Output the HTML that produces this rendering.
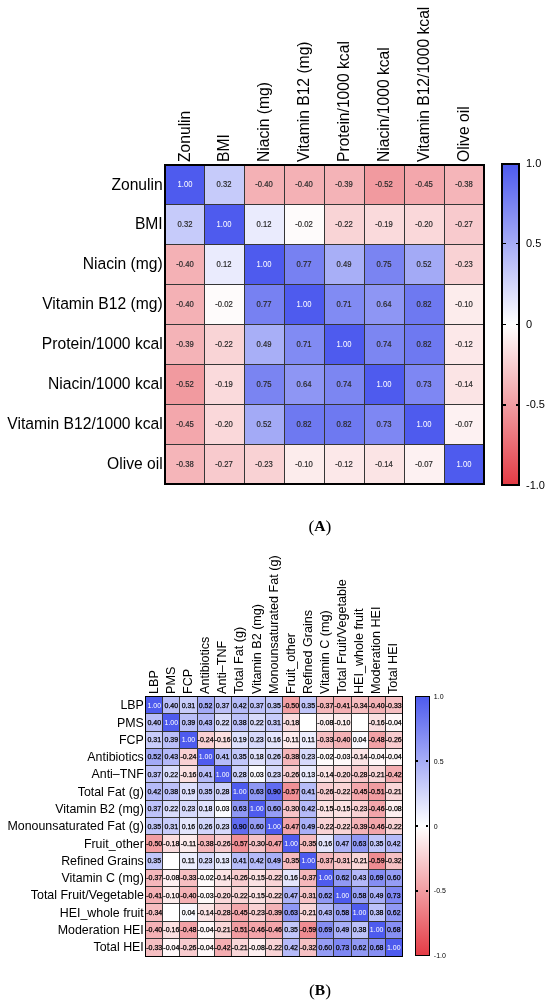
<!DOCTYPE html><html><head><meta charset="utf-8"><style>
html,body{margin:0;padding:0;background:#fff;}body{width:550px;height:1004px;position:relative;overflow:hidden;filter:blur(0.3px);font-family:"Liberation Sans",sans-serif;color:#000}
.c,.l,.v,.rl,.cl,.tl,.cap{position:absolute}.v{text-align:center;white-space:nowrap}.rl{white-space:nowrap;text-align:right}
.cl{white-space:nowrap;transform-origin:0 0;transform:rotate(-90deg);width:max-content}.tl{white-space:nowrap}
.cap{font-family:"Liberation Serif",serif;white-space:nowrap}
</style></head><body>
<div style="position:absolute;left:164.5px;top:164.5px;width:319.52px;height:319.52px;">
<div class="c" style="left:0.00px;top:0.00px;width:40.44px;height:40.44px;background:#4e5bee"></div>
<div class="c" style="left:39.94px;top:0.00px;width:40.44px;height:40.44px;background:#c6cbfa"></div>
<div class="c" style="left:79.88px;top:0.00px;width:40.44px;height:40.44px;background:#f4b1b5"></div>
<div class="c" style="left:119.82px;top:0.00px;width:40.44px;height:40.44px;background:#f4b1b5"></div>
<div class="c" style="left:159.76px;top:0.00px;width:40.44px;height:40.44px;background:#f4b3b7"></div>
<div class="c" style="left:199.70px;top:0.00px;width:40.44px;height:40.44px;background:#f19a9f"></div>
<div class="c" style="left:239.64px;top:0.00px;width:40.44px;height:40.44px;background:#f3a7ac"></div>
<div class="c" style="left:279.58px;top:0.00px;width:40.44px;height:40.44px;background:#f5b5b9"></div>
<div class="c" style="left:0.00px;top:39.94px;width:40.44px;height:40.44px;background:#c6cbfa"></div>
<div class="c" style="left:39.94px;top:39.94px;width:40.44px;height:40.44px;background:#4e5bee"></div>
<div class="c" style="left:79.88px;top:39.94px;width:40.44px;height:40.44px;background:#eaebfd"></div>
<div class="c" style="left:119.82px;top:39.94px;width:40.44px;height:40.44px;background:#fefbfb"></div>
<div class="c" style="left:159.76px;top:39.94px;width:40.44px;height:40.44px;background:#f9d4d6"></div>
<div class="c" style="left:199.70px;top:39.94px;width:40.44px;height:40.44px;background:#fadadc"></div>
<div class="c" style="left:239.64px;top:39.94px;width:40.44px;height:40.44px;background:#fad8da"></div>
<div class="c" style="left:279.58px;top:39.94px;width:40.44px;height:40.44px;background:#f8cacd"></div>
<div class="c" style="left:0.00px;top:79.88px;width:40.44px;height:40.44px;background:#f4b1b5"></div>
<div class="c" style="left:39.94px;top:79.88px;width:40.44px;height:40.44px;background:#eaebfd"></div>
<div class="c" style="left:79.88px;top:79.88px;width:40.44px;height:40.44px;background:#4e5bee"></div>
<div class="c" style="left:119.82px;top:79.88px;width:40.44px;height:40.44px;background:#7781f2"></div>
<div class="c" style="left:159.76px;top:79.88px;width:40.44px;height:40.44px;background:#a8aff7"></div>
<div class="c" style="left:199.70px;top:79.88px;width:40.44px;height:40.44px;background:#7a84f2"></div>
<div class="c" style="left:239.64px;top:79.88px;width:40.44px;height:40.44px;background:#a3aaf6"></div>
<div class="c" style="left:279.58px;top:79.88px;width:40.44px;height:40.44px;background:#f9d2d4"></div>
<div class="c" style="left:0.00px;top:119.82px;width:40.44px;height:40.44px;background:#f4b1b5"></div>
<div class="c" style="left:39.94px;top:119.82px;width:40.44px;height:40.44px;background:#fefbfb"></div>
<div class="c" style="left:79.88px;top:119.82px;width:40.44px;height:40.44px;background:#7781f2"></div>
<div class="c" style="left:119.82px;top:119.82px;width:40.44px;height:40.44px;background:#4e5bee"></div>
<div class="c" style="left:159.76px;top:119.82px;width:40.44px;height:40.44px;background:#818bf3"></div>
<div class="c" style="left:199.70px;top:119.82px;width:40.44px;height:40.44px;background:#8e96f4"></div>
<div class="c" style="left:239.64px;top:119.82px;width:40.44px;height:40.44px;background:#6e79f1"></div>
<div class="c" style="left:279.58px;top:119.82px;width:40.44px;height:40.44px;background:#fcecec"></div>
<div class="c" style="left:0.00px;top:159.76px;width:40.44px;height:40.44px;background:#f4b3b7"></div>
<div class="c" style="left:39.94px;top:159.76px;width:40.44px;height:40.44px;background:#f9d4d6"></div>
<div class="c" style="left:79.88px;top:159.76px;width:40.44px;height:40.44px;background:#a8aff7"></div>
<div class="c" style="left:119.82px;top:159.76px;width:40.44px;height:40.44px;background:#818bf3"></div>
<div class="c" style="left:159.76px;top:159.76px;width:40.44px;height:40.44px;background:#4e5bee"></div>
<div class="c" style="left:199.70px;top:159.76px;width:40.44px;height:40.44px;background:#7c86f2"></div>
<div class="c" style="left:239.64px;top:159.76px;width:40.44px;height:40.44px;background:#6e79f1"></div>
<div class="c" style="left:279.58px;top:159.76px;width:40.44px;height:40.44px;background:#fce8e9"></div>
<div class="c" style="left:0.00px;top:199.70px;width:40.44px;height:40.44px;background:#f19a9f"></div>
<div class="c" style="left:39.94px;top:199.70px;width:40.44px;height:40.44px;background:#fadadc"></div>
<div class="c" style="left:79.88px;top:199.70px;width:40.44px;height:40.44px;background:#7a84f2"></div>
<div class="c" style="left:119.82px;top:199.70px;width:40.44px;height:40.44px;background:#8e96f4"></div>
<div class="c" style="left:159.76px;top:199.70px;width:40.44px;height:40.44px;background:#7c86f2"></div>
<div class="c" style="left:199.70px;top:199.70px;width:40.44px;height:40.44px;background:#4e5bee"></div>
<div class="c" style="left:239.64px;top:199.70px;width:40.44px;height:40.44px;background:#7e87f3"></div>
<div class="c" style="left:279.58px;top:199.70px;width:40.44px;height:40.44px;background:#fbe4e5"></div>
<div class="c" style="left:0.00px;top:239.64px;width:40.44px;height:40.44px;background:#f3a7ac"></div>
<div class="c" style="left:39.94px;top:239.64px;width:40.44px;height:40.44px;background:#fad8da"></div>
<div class="c" style="left:79.88px;top:239.64px;width:40.44px;height:40.44px;background:#a3aaf6"></div>
<div class="c" style="left:119.82px;top:239.64px;width:40.44px;height:40.44px;background:#6e79f1"></div>
<div class="c" style="left:159.76px;top:239.64px;width:40.44px;height:40.44px;background:#6e79f1"></div>
<div class="c" style="left:199.70px;top:239.64px;width:40.44px;height:40.44px;background:#7e87f3"></div>
<div class="c" style="left:239.64px;top:239.64px;width:40.44px;height:40.44px;background:#4e5bee"></div>
<div class="c" style="left:279.58px;top:239.64px;width:40.44px;height:40.44px;background:#fdf1f2"></div>
<div class="c" style="left:0.00px;top:279.58px;width:40.44px;height:40.44px;background:#f5b5b9"></div>
<div class="c" style="left:39.94px;top:279.58px;width:40.44px;height:40.44px;background:#f8cacd"></div>
<div class="c" style="left:79.88px;top:279.58px;width:40.44px;height:40.44px;background:#f9d2d4"></div>
<div class="c" style="left:119.82px;top:279.58px;width:40.44px;height:40.44px;background:#fcecec"></div>
<div class="c" style="left:159.76px;top:279.58px;width:40.44px;height:40.44px;background:#fce8e9"></div>
<div class="c" style="left:199.70px;top:279.58px;width:40.44px;height:40.44px;background:#fbe4e5"></div>
<div class="c" style="left:239.64px;top:279.58px;width:40.44px;height:40.44px;background:#fdf1f2"></div>
<div class="c" style="left:279.58px;top:279.58px;width:40.44px;height:40.44px;background:#4e5bee"></div>
<div class="l" style="left:39.44px;top:0;width:1.0px;height:319.52px;background:#363636"></div>
<div class="l" style="top:39.44px;left:0;height:1.0px;width:319.52px;background:#363636"></div>
<div class="l" style="left:79.38px;top:0;width:1.0px;height:319.52px;background:#363636"></div>
<div class="l" style="top:79.38px;left:0;height:1.0px;width:319.52px;background:#363636"></div>
<div class="l" style="left:119.32px;top:0;width:1.0px;height:319.52px;background:#363636"></div>
<div class="l" style="top:119.32px;left:0;height:1.0px;width:319.52px;background:#363636"></div>
<div class="l" style="left:159.26px;top:0;width:1.0px;height:319.52px;background:#363636"></div>
<div class="l" style="top:159.26px;left:0;height:1.0px;width:319.52px;background:#363636"></div>
<div class="l" style="left:199.20px;top:0;width:1.0px;height:319.52px;background:#363636"></div>
<div class="l" style="top:199.20px;left:0;height:1.0px;width:319.52px;background:#363636"></div>
<div class="l" style="left:239.14px;top:0;width:1.0px;height:319.52px;background:#363636"></div>
<div class="l" style="top:239.14px;left:0;height:1.0px;width:319.52px;background:#363636"></div>
<div class="l" style="left:279.08px;top:0;width:1.0px;height:319.52px;background:#363636"></div>
<div class="l" style="top:279.08px;left:0;height:1.0px;width:319.52px;background:#363636"></div>
<div class="v" style="left:0.00px;top:0.60px;width:39.94px;height:39.94px;line-height:39.94px;font-size:8.5px;color:#ffffff;transform:scaleX(0.9);-webkit-text-stroke:0px #ffffff">1.00</div>
<div class="v" style="left:39.94px;top:0.60px;width:39.94px;height:39.94px;line-height:39.94px;font-size:8.5px;color:#2a2a2a;transform:scaleX(0.9);-webkit-text-stroke:0.2px #2a2a2a">0.32</div>
<div class="v" style="left:79.88px;top:0.60px;width:39.94px;height:39.94px;line-height:39.94px;font-size:8.5px;color:#2a2a2a;transform:scaleX(0.9);-webkit-text-stroke:0.2px #2a2a2a">-0.40</div>
<div class="v" style="left:119.82px;top:0.60px;width:39.94px;height:39.94px;line-height:39.94px;font-size:8.5px;color:#2a2a2a;transform:scaleX(0.9);-webkit-text-stroke:0.2px #2a2a2a">-0.40</div>
<div class="v" style="left:159.76px;top:0.60px;width:39.94px;height:39.94px;line-height:39.94px;font-size:8.5px;color:#2a2a2a;transform:scaleX(0.9);-webkit-text-stroke:0.2px #2a2a2a">-0.39</div>
<div class="v" style="left:199.70px;top:0.60px;width:39.94px;height:39.94px;line-height:39.94px;font-size:8.5px;color:#2a2a2a;transform:scaleX(0.9);-webkit-text-stroke:0.2px #2a2a2a">-0.52</div>
<div class="v" style="left:239.64px;top:0.60px;width:39.94px;height:39.94px;line-height:39.94px;font-size:8.5px;color:#2a2a2a;transform:scaleX(0.9);-webkit-text-stroke:0.2px #2a2a2a">-0.45</div>
<div class="v" style="left:279.58px;top:0.60px;width:39.94px;height:39.94px;line-height:39.94px;font-size:8.5px;color:#2a2a2a;transform:scaleX(0.9);-webkit-text-stroke:0.2px #2a2a2a">-0.38</div>
<div class="v" style="left:0.00px;top:40.54px;width:39.94px;height:39.94px;line-height:39.94px;font-size:8.5px;color:#2a2a2a;transform:scaleX(0.9);-webkit-text-stroke:0.2px #2a2a2a">0.32</div>
<div class="v" style="left:39.94px;top:40.54px;width:39.94px;height:39.94px;line-height:39.94px;font-size:8.5px;color:#ffffff;transform:scaleX(0.9);-webkit-text-stroke:0px #ffffff">1.00</div>
<div class="v" style="left:79.88px;top:40.54px;width:39.94px;height:39.94px;line-height:39.94px;font-size:8.5px;color:#2a2a2a;transform:scaleX(0.9);-webkit-text-stroke:0.2px #2a2a2a">0.12</div>
<div class="v" style="left:119.82px;top:40.54px;width:39.94px;height:39.94px;line-height:39.94px;font-size:8.5px;color:#2a2a2a;transform:scaleX(0.9);-webkit-text-stroke:0.2px #2a2a2a">-0.02</div>
<div class="v" style="left:159.76px;top:40.54px;width:39.94px;height:39.94px;line-height:39.94px;font-size:8.5px;color:#2a2a2a;transform:scaleX(0.9);-webkit-text-stroke:0.2px #2a2a2a">-0.22</div>
<div class="v" style="left:199.70px;top:40.54px;width:39.94px;height:39.94px;line-height:39.94px;font-size:8.5px;color:#2a2a2a;transform:scaleX(0.9);-webkit-text-stroke:0.2px #2a2a2a">-0.19</div>
<div class="v" style="left:239.64px;top:40.54px;width:39.94px;height:39.94px;line-height:39.94px;font-size:8.5px;color:#2a2a2a;transform:scaleX(0.9);-webkit-text-stroke:0.2px #2a2a2a">-0.20</div>
<div class="v" style="left:279.58px;top:40.54px;width:39.94px;height:39.94px;line-height:39.94px;font-size:8.5px;color:#2a2a2a;transform:scaleX(0.9);-webkit-text-stroke:0.2px #2a2a2a">-0.27</div>
<div class="v" style="left:0.00px;top:80.48px;width:39.94px;height:39.94px;line-height:39.94px;font-size:8.5px;color:#2a2a2a;transform:scaleX(0.9);-webkit-text-stroke:0.2px #2a2a2a">-0.40</div>
<div class="v" style="left:39.94px;top:80.48px;width:39.94px;height:39.94px;line-height:39.94px;font-size:8.5px;color:#2a2a2a;transform:scaleX(0.9);-webkit-text-stroke:0.2px #2a2a2a">0.12</div>
<div class="v" style="left:79.88px;top:80.48px;width:39.94px;height:39.94px;line-height:39.94px;font-size:8.5px;color:#ffffff;transform:scaleX(0.9);-webkit-text-stroke:0px #ffffff">1.00</div>
<div class="v" style="left:119.82px;top:80.48px;width:39.94px;height:39.94px;line-height:39.94px;font-size:8.5px;color:#2a2a2a;transform:scaleX(0.9);-webkit-text-stroke:0.2px #2a2a2a">0.77</div>
<div class="v" style="left:159.76px;top:80.48px;width:39.94px;height:39.94px;line-height:39.94px;font-size:8.5px;color:#2a2a2a;transform:scaleX(0.9);-webkit-text-stroke:0.2px #2a2a2a">0.49</div>
<div class="v" style="left:199.70px;top:80.48px;width:39.94px;height:39.94px;line-height:39.94px;font-size:8.5px;color:#2a2a2a;transform:scaleX(0.9);-webkit-text-stroke:0.2px #2a2a2a">0.75</div>
<div class="v" style="left:239.64px;top:80.48px;width:39.94px;height:39.94px;line-height:39.94px;font-size:8.5px;color:#2a2a2a;transform:scaleX(0.9);-webkit-text-stroke:0.2px #2a2a2a">0.52</div>
<div class="v" style="left:279.58px;top:80.48px;width:39.94px;height:39.94px;line-height:39.94px;font-size:8.5px;color:#2a2a2a;transform:scaleX(0.9);-webkit-text-stroke:0.2px #2a2a2a">-0.23</div>
<div class="v" style="left:0.00px;top:120.42px;width:39.94px;height:39.94px;line-height:39.94px;font-size:8.5px;color:#2a2a2a;transform:scaleX(0.9);-webkit-text-stroke:0.2px #2a2a2a">-0.40</div>
<div class="v" style="left:39.94px;top:120.42px;width:39.94px;height:39.94px;line-height:39.94px;font-size:8.5px;color:#2a2a2a;transform:scaleX(0.9);-webkit-text-stroke:0.2px #2a2a2a">-0.02</div>
<div class="v" style="left:79.88px;top:120.42px;width:39.94px;height:39.94px;line-height:39.94px;font-size:8.5px;color:#2a2a2a;transform:scaleX(0.9);-webkit-text-stroke:0.2px #2a2a2a">0.77</div>
<div class="v" style="left:119.82px;top:120.42px;width:39.94px;height:39.94px;line-height:39.94px;font-size:8.5px;color:#ffffff;transform:scaleX(0.9);-webkit-text-stroke:0px #ffffff">1.00</div>
<div class="v" style="left:159.76px;top:120.42px;width:39.94px;height:39.94px;line-height:39.94px;font-size:8.5px;color:#2a2a2a;transform:scaleX(0.9);-webkit-text-stroke:0.2px #2a2a2a">0.71</div>
<div class="v" style="left:199.70px;top:120.42px;width:39.94px;height:39.94px;line-height:39.94px;font-size:8.5px;color:#2a2a2a;transform:scaleX(0.9);-webkit-text-stroke:0.2px #2a2a2a">0.64</div>
<div class="v" style="left:239.64px;top:120.42px;width:39.94px;height:39.94px;line-height:39.94px;font-size:8.5px;color:#2a2a2a;transform:scaleX(0.9);-webkit-text-stroke:0.2px #2a2a2a">0.82</div>
<div class="v" style="left:279.58px;top:120.42px;width:39.94px;height:39.94px;line-height:39.94px;font-size:8.5px;color:#2a2a2a;transform:scaleX(0.9);-webkit-text-stroke:0.2px #2a2a2a">-0.10</div>
<div class="v" style="left:0.00px;top:160.36px;width:39.94px;height:39.94px;line-height:39.94px;font-size:8.5px;color:#2a2a2a;transform:scaleX(0.9);-webkit-text-stroke:0.2px #2a2a2a">-0.39</div>
<div class="v" style="left:39.94px;top:160.36px;width:39.94px;height:39.94px;line-height:39.94px;font-size:8.5px;color:#2a2a2a;transform:scaleX(0.9);-webkit-text-stroke:0.2px #2a2a2a">-0.22</div>
<div class="v" style="left:79.88px;top:160.36px;width:39.94px;height:39.94px;line-height:39.94px;font-size:8.5px;color:#2a2a2a;transform:scaleX(0.9);-webkit-text-stroke:0.2px #2a2a2a">0.49</div>
<div class="v" style="left:119.82px;top:160.36px;width:39.94px;height:39.94px;line-height:39.94px;font-size:8.5px;color:#2a2a2a;transform:scaleX(0.9);-webkit-text-stroke:0.2px #2a2a2a">0.71</div>
<div class="v" style="left:159.76px;top:160.36px;width:39.94px;height:39.94px;line-height:39.94px;font-size:8.5px;color:#ffffff;transform:scaleX(0.9);-webkit-text-stroke:0px #ffffff">1.00</div>
<div class="v" style="left:199.70px;top:160.36px;width:39.94px;height:39.94px;line-height:39.94px;font-size:8.5px;color:#2a2a2a;transform:scaleX(0.9);-webkit-text-stroke:0.2px #2a2a2a">0.74</div>
<div class="v" style="left:239.64px;top:160.36px;width:39.94px;height:39.94px;line-height:39.94px;font-size:8.5px;color:#2a2a2a;transform:scaleX(0.9);-webkit-text-stroke:0.2px #2a2a2a">0.82</div>
<div class="v" style="left:279.58px;top:160.36px;width:39.94px;height:39.94px;line-height:39.94px;font-size:8.5px;color:#2a2a2a;transform:scaleX(0.9);-webkit-text-stroke:0.2px #2a2a2a">-0.12</div>
<div class="v" style="left:0.00px;top:200.30px;width:39.94px;height:39.94px;line-height:39.94px;font-size:8.5px;color:#2a2a2a;transform:scaleX(0.9);-webkit-text-stroke:0.2px #2a2a2a">-0.52</div>
<div class="v" style="left:39.94px;top:200.30px;width:39.94px;height:39.94px;line-height:39.94px;font-size:8.5px;color:#2a2a2a;transform:scaleX(0.9);-webkit-text-stroke:0.2px #2a2a2a">-0.19</div>
<div class="v" style="left:79.88px;top:200.30px;width:39.94px;height:39.94px;line-height:39.94px;font-size:8.5px;color:#2a2a2a;transform:scaleX(0.9);-webkit-text-stroke:0.2px #2a2a2a">0.75</div>
<div class="v" style="left:119.82px;top:200.30px;width:39.94px;height:39.94px;line-height:39.94px;font-size:8.5px;color:#2a2a2a;transform:scaleX(0.9);-webkit-text-stroke:0.2px #2a2a2a">0.64</div>
<div class="v" style="left:159.76px;top:200.30px;width:39.94px;height:39.94px;line-height:39.94px;font-size:8.5px;color:#2a2a2a;transform:scaleX(0.9);-webkit-text-stroke:0.2px #2a2a2a">0.74</div>
<div class="v" style="left:199.70px;top:200.30px;width:39.94px;height:39.94px;line-height:39.94px;font-size:8.5px;color:#ffffff;transform:scaleX(0.9);-webkit-text-stroke:0px #ffffff">1.00</div>
<div class="v" style="left:239.64px;top:200.30px;width:39.94px;height:39.94px;line-height:39.94px;font-size:8.5px;color:#2a2a2a;transform:scaleX(0.9);-webkit-text-stroke:0.2px #2a2a2a">0.73</div>
<div class="v" style="left:279.58px;top:200.30px;width:39.94px;height:39.94px;line-height:39.94px;font-size:8.5px;color:#2a2a2a;transform:scaleX(0.9);-webkit-text-stroke:0.2px #2a2a2a">-0.14</div>
<div class="v" style="left:0.00px;top:240.24px;width:39.94px;height:39.94px;line-height:39.94px;font-size:8.5px;color:#2a2a2a;transform:scaleX(0.9);-webkit-text-stroke:0.2px #2a2a2a">-0.45</div>
<div class="v" style="left:39.94px;top:240.24px;width:39.94px;height:39.94px;line-height:39.94px;font-size:8.5px;color:#2a2a2a;transform:scaleX(0.9);-webkit-text-stroke:0.2px #2a2a2a">-0.20</div>
<div class="v" style="left:79.88px;top:240.24px;width:39.94px;height:39.94px;line-height:39.94px;font-size:8.5px;color:#2a2a2a;transform:scaleX(0.9);-webkit-text-stroke:0.2px #2a2a2a">0.52</div>
<div class="v" style="left:119.82px;top:240.24px;width:39.94px;height:39.94px;line-height:39.94px;font-size:8.5px;color:#2a2a2a;transform:scaleX(0.9);-webkit-text-stroke:0.2px #2a2a2a">0.82</div>
<div class="v" style="left:159.76px;top:240.24px;width:39.94px;height:39.94px;line-height:39.94px;font-size:8.5px;color:#2a2a2a;transform:scaleX(0.9);-webkit-text-stroke:0.2px #2a2a2a">0.82</div>
<div class="v" style="left:199.70px;top:240.24px;width:39.94px;height:39.94px;line-height:39.94px;font-size:8.5px;color:#2a2a2a;transform:scaleX(0.9);-webkit-text-stroke:0.2px #2a2a2a">0.73</div>
<div class="v" style="left:239.64px;top:240.24px;width:39.94px;height:39.94px;line-height:39.94px;font-size:8.5px;color:#ffffff;transform:scaleX(0.9);-webkit-text-stroke:0px #ffffff">1.00</div>
<div class="v" style="left:279.58px;top:240.24px;width:39.94px;height:39.94px;line-height:39.94px;font-size:8.5px;color:#2a2a2a;transform:scaleX(0.9);-webkit-text-stroke:0.2px #2a2a2a">-0.07</div>
<div class="v" style="left:0.00px;top:280.18px;width:39.94px;height:39.94px;line-height:39.94px;font-size:8.5px;color:#2a2a2a;transform:scaleX(0.9);-webkit-text-stroke:0.2px #2a2a2a">-0.38</div>
<div class="v" style="left:39.94px;top:280.18px;width:39.94px;height:39.94px;line-height:39.94px;font-size:8.5px;color:#2a2a2a;transform:scaleX(0.9);-webkit-text-stroke:0.2px #2a2a2a">-0.27</div>
<div class="v" style="left:79.88px;top:280.18px;width:39.94px;height:39.94px;line-height:39.94px;font-size:8.5px;color:#2a2a2a;transform:scaleX(0.9);-webkit-text-stroke:0.2px #2a2a2a">-0.23</div>
<div class="v" style="left:119.82px;top:280.18px;width:39.94px;height:39.94px;line-height:39.94px;font-size:8.5px;color:#2a2a2a;transform:scaleX(0.9);-webkit-text-stroke:0.2px #2a2a2a">-0.10</div>
<div class="v" style="left:159.76px;top:280.18px;width:39.94px;height:39.94px;line-height:39.94px;font-size:8.5px;color:#2a2a2a;transform:scaleX(0.9);-webkit-text-stroke:0.2px #2a2a2a">-0.12</div>
<div class="v" style="left:199.70px;top:280.18px;width:39.94px;height:39.94px;line-height:39.94px;font-size:8.5px;color:#2a2a2a;transform:scaleX(0.9);-webkit-text-stroke:0.2px #2a2a2a">-0.14</div>
<div class="v" style="left:239.64px;top:280.18px;width:39.94px;height:39.94px;line-height:39.94px;font-size:8.5px;color:#2a2a2a;transform:scaleX(0.9);-webkit-text-stroke:0.2px #2a2a2a">-0.07</div>
<div class="v" style="left:279.58px;top:280.18px;width:39.94px;height:39.94px;line-height:39.94px;font-size:8.5px;color:#ffffff;transform:scaleX(0.9);-webkit-text-stroke:0px #ffffff">1.00</div>
<div style="position:absolute;left:-1.00px;top:-1.00px;width:321.52px;height:321.52px;box-sizing:border-box;border:2.0px solid #000"></div>
</div>
<div class="rl" style="right:387.30px;top:164.50px;height:39.94px;line-height:39.94px;font-size:15.65px">Zonulin</div>
<div class="rl" style="right:387.30px;top:204.44px;height:39.94px;line-height:39.94px;font-size:15.65px">BMI</div>
<div class="rl" style="right:387.30px;top:244.38px;height:39.94px;line-height:39.94px;font-size:15.65px">Niacin (mg)</div>
<div class="rl" style="right:387.30px;top:284.32px;height:39.94px;line-height:39.94px;font-size:15.65px">Vitamin B12 (mg)</div>
<div class="rl" style="right:387.30px;top:324.26px;height:39.94px;line-height:39.94px;font-size:15.65px">Protein/1000 kcal</div>
<div class="rl" style="right:387.30px;top:364.20px;height:39.94px;line-height:39.94px;font-size:15.65px">Niacin/1000 kcal</div>
<div class="rl" style="right:387.30px;top:404.14px;height:39.94px;line-height:39.94px;font-size:15.65px">Vitamin B12/1000 kcal</div>
<div class="rl" style="right:387.30px;top:444.08px;height:39.94px;line-height:39.94px;font-size:15.65px">Olive oil</div>
<div class="cl" style="left:176.50px;top:161.80px;font-size:15.65px;line-height:15.65px">Zonulin</div>
<div class="cl" style="left:216.44px;top:161.80px;font-size:15.65px;line-height:15.65px">BMI</div>
<div class="cl" style="left:256.38px;top:161.80px;font-size:15.65px;line-height:15.65px">Niacin (mg)</div>
<div class="cl" style="left:296.32px;top:161.80px;font-size:15.65px;line-height:15.65px">Vitamin B12 (mg)</div>
<div class="cl" style="left:336.26px;top:161.80px;font-size:15.65px;line-height:15.65px">Protein/1000 kcal</div>
<div class="cl" style="left:376.20px;top:161.80px;font-size:15.65px;line-height:15.65px">Niacin/1000 kcal</div>
<div class="cl" style="left:416.14px;top:161.80px;font-size:15.65px;line-height:15.65px">Vitamin B12/1000 kcal</div>
<div class="cl" style="left:456.08px;top:161.80px;font-size:15.65px;line-height:15.65px">Olive oil</div>
<div style="position:absolute;left:500.8px;top:162.9px;width:19.7px;height:323px;box-sizing:border-box;border:2px solid #000;background:linear-gradient(to bottom,#4e5bee,#ffffff,#e43c46)"></div>
<div class="l" style="left:502.80px;top:242.90px;width:3px;height:1.5px;background:#000"></div>
<div class="l" style="left:515.50px;top:242.90px;width:3px;height:1.5px;background:#000"></div>
<div class="l" style="left:502.80px;top:323.65px;width:3px;height:1.5px;background:#000"></div>
<div class="l" style="left:515.50px;top:323.65px;width:3px;height:1.5px;background:#000"></div>
<div class="l" style="left:502.80px;top:404.40px;width:3px;height:1.5px;background:#000"></div>
<div class="l" style="left:515.50px;top:404.40px;width:3px;height:1.5px;background:#000"></div>
<div class="tl" style="left:526px;top:142.90px;height:40px;line-height:40px;font-size:11px">1.0</div>
<div class="tl" style="left:526px;top:223.40px;height:40px;line-height:40px;font-size:11px">0.5</div>
<div class="tl" style="left:526px;top:303.90px;height:40px;line-height:40px;font-size:11px">0</div>
<div class="tl" style="left:526px;top:384.40px;height:40px;line-height:40px;font-size:11px">-0.5</div>
<div class="tl" style="left:526px;top:464.90px;height:40px;line-height:40px;font-size:11px">-1.0</div>
<div style="position:absolute;left:145.7px;top:696.6px;width:256.65px;height:259.20000000000005px;">
<div class="c" style="left:0.00px;top:0.00px;width:17.61px;height:17.78px;background:#4e5bee"></div>
<div class="c" style="left:17.11px;top:0.00px;width:17.61px;height:17.78px;background:#b8bdf8"></div>
<div class="c" style="left:34.22px;top:0.00px;width:17.61px;height:17.78px;background:#c8ccfa"></div>
<div class="c" style="left:51.33px;top:0.00px;width:17.61px;height:17.78px;background:#a3aaf6"></div>
<div class="c" style="left:68.44px;top:0.00px;width:17.61px;height:17.78px;background:#bec2f9"></div>
<div class="c" style="left:85.55px;top:0.00px;width:17.61px;height:17.78px;background:#b5baf8"></div>
<div class="c" style="left:102.66px;top:0.00px;width:17.61px;height:17.78px;background:#bec2f9"></div>
<div class="c" style="left:119.77px;top:0.00px;width:17.61px;height:17.78px;background:#c1c6f9"></div>
<div class="c" style="left:136.88px;top:0.00px;width:17.61px;height:17.78px;background:#f29ea2"></div>
<div class="c" style="left:153.99px;top:0.00px;width:17.61px;height:17.78px;background:#c1c6f9"></div>
<div class="c" style="left:171.10px;top:0.00px;width:17.61px;height:17.78px;background:#f5b7bb"></div>
<div class="c" style="left:188.21px;top:0.00px;width:17.61px;height:17.78px;background:#f4afb3"></div>
<div class="c" style="left:205.32px;top:0.00px;width:17.61px;height:17.78px;background:#f6bdc0"></div>
<div class="c" style="left:222.43px;top:0.00px;width:17.61px;height:17.78px;background:#f4b1b5"></div>
<div class="c" style="left:239.54px;top:0.00px;width:17.61px;height:17.78px;background:#f6bfc2"></div>
<div class="c" style="left:0.00px;top:17.28px;width:17.61px;height:17.78px;background:#b8bdf8"></div>
<div class="c" style="left:17.11px;top:17.28px;width:17.61px;height:17.78px;background:#4e5bee"></div>
<div class="c" style="left:34.22px;top:17.28px;width:17.61px;height:17.78px;background:#babff8"></div>
<div class="c" style="left:51.33px;top:17.28px;width:17.61px;height:17.78px;background:#b3b8f8"></div>
<div class="c" style="left:68.44px;top:17.28px;width:17.61px;height:17.78px;background:#d8dbfb"></div>
<div class="c" style="left:85.55px;top:17.28px;width:17.61px;height:17.78px;background:#bcc1f9"></div>
<div class="c" style="left:102.66px;top:17.28px;width:17.61px;height:17.78px;background:#d8dbfb"></div>
<div class="c" style="left:119.77px;top:17.28px;width:17.61px;height:17.78px;background:#c8ccfa"></div>
<div class="c" style="left:136.88px;top:17.28px;width:17.61px;height:17.78px;background:#fadcde"></div>
<div class="c" style="left:153.99px;top:17.28px;width:17.61px;height:17.78px;background:#ffffff"></div>
<div class="c" style="left:171.10px;top:17.28px;width:17.61px;height:17.78px;background:#fdeff0"></div>
<div class="c" style="left:188.21px;top:17.28px;width:17.61px;height:17.78px;background:#fcecec"></div>
<div class="c" style="left:205.32px;top:17.28px;width:17.61px;height:17.78px;background:#ffffff"></div>
<div class="c" style="left:222.43px;top:17.28px;width:17.61px;height:17.78px;background:#fbe0e1"></div>
<div class="c" style="left:239.54px;top:17.28px;width:17.61px;height:17.78px;background:#fef7f8"></div>
<div class="c" style="left:0.00px;top:34.56px;width:17.61px;height:17.78px;background:#c8ccfa"></div>
<div class="c" style="left:17.11px;top:34.56px;width:17.61px;height:17.78px;background:#babff8"></div>
<div class="c" style="left:34.22px;top:34.56px;width:17.61px;height:17.78px;background:#4e5bee"></div>
<div class="c" style="left:51.33px;top:34.56px;width:17.61px;height:17.78px;background:#f9d0d3"></div>
<div class="c" style="left:68.44px;top:34.56px;width:17.61px;height:17.78px;background:#fbe0e1"></div>
<div class="c" style="left:85.55px;top:34.56px;width:17.61px;height:17.78px;background:#dde0fc"></div>
<div class="c" style="left:102.66px;top:34.56px;width:17.61px;height:17.78px;background:#d6d9fb"></div>
<div class="c" style="left:119.77px;top:34.56px;width:17.61px;height:17.78px;background:#e3e5fc"></div>
<div class="c" style="left:136.88px;top:34.56px;width:17.61px;height:17.78px;background:#fceaeb"></div>
<div class="c" style="left:153.99px;top:34.56px;width:17.61px;height:17.78px;background:#ecedfd"></div>
<div class="c" style="left:171.10px;top:34.56px;width:17.61px;height:17.78px;background:#f6bfc2"></div>
<div class="c" style="left:188.21px;top:34.56px;width:17.61px;height:17.78px;background:#f4b1b5"></div>
<div class="c" style="left:205.32px;top:34.56px;width:17.61px;height:17.78px;background:#f8f8fe"></div>
<div class="c" style="left:222.43px;top:34.56px;width:17.61px;height:17.78px;background:#f2a1a6"></div>
<div class="c" style="left:239.54px;top:34.56px;width:17.61px;height:17.78px;background:#f8cccf"></div>
<div class="c" style="left:0.00px;top:51.84px;width:17.61px;height:17.78px;background:#a3aaf6"></div>
<div class="c" style="left:17.11px;top:51.84px;width:17.61px;height:17.78px;background:#b3b8f8"></div>
<div class="c" style="left:34.22px;top:51.84px;width:17.61px;height:17.78px;background:#f9d0d3"></div>
<div class="c" style="left:51.33px;top:51.84px;width:17.61px;height:17.78px;background:#4e5bee"></div>
<div class="c" style="left:68.44px;top:51.84px;width:17.61px;height:17.78px;background:#b6bcf8"></div>
<div class="c" style="left:85.55px;top:51.84px;width:17.61px;height:17.78px;background:#c1c6f9"></div>
<div class="c" style="left:102.66px;top:51.84px;width:17.61px;height:17.78px;background:#dfe1fc"></div>
<div class="c" style="left:119.77px;top:51.84px;width:17.61px;height:17.78px;background:#d1d4fb"></div>
<div class="c" style="left:136.88px;top:51.84px;width:17.61px;height:17.78px;background:#f5b5b9"></div>
<div class="c" style="left:153.99px;top:51.84px;width:17.61px;height:17.78px;background:#d6d9fb"></div>
<div class="c" style="left:171.10px;top:51.84px;width:17.61px;height:17.78px;background:#fefbfb"></div>
<div class="c" style="left:188.21px;top:51.84px;width:17.61px;height:17.78px;background:#fef9f9"></div>
<div class="c" style="left:205.32px;top:51.84px;width:17.61px;height:17.78px;background:#fbe4e5"></div>
<div class="c" style="left:222.43px;top:51.84px;width:17.61px;height:17.78px;background:#fef7f8"></div>
<div class="c" style="left:239.54px;top:51.84px;width:17.61px;height:17.78px;background:#fef7f8"></div>
<div class="c" style="left:0.00px;top:69.12px;width:17.61px;height:17.78px;background:#bec2f9"></div>
<div class="c" style="left:17.11px;top:69.12px;width:17.61px;height:17.78px;background:#d8dbfb"></div>
<div class="c" style="left:34.22px;top:69.12px;width:17.61px;height:17.78px;background:#fbe0e1"></div>
<div class="c" style="left:51.33px;top:69.12px;width:17.61px;height:17.78px;background:#b6bcf8"></div>
<div class="c" style="left:68.44px;top:69.12px;width:17.61px;height:17.78px;background:#4e5bee"></div>
<div class="c" style="left:85.55px;top:69.12px;width:17.61px;height:17.78px;background:#cdd1fa"></div>
<div class="c" style="left:102.66px;top:69.12px;width:17.61px;height:17.78px;background:#fafafe"></div>
<div class="c" style="left:119.77px;top:69.12px;width:17.61px;height:17.78px;background:#d6d9fb"></div>
<div class="c" style="left:136.88px;top:69.12px;width:17.61px;height:17.78px;background:#f8cccf"></div>
<div class="c" style="left:153.99px;top:69.12px;width:17.61px;height:17.78px;background:#e8eafd"></div>
<div class="c" style="left:171.10px;top:69.12px;width:17.61px;height:17.78px;background:#fbe4e5"></div>
<div class="c" style="left:188.21px;top:69.12px;width:17.61px;height:17.78px;background:#fad8da"></div>
<div class="c" style="left:205.32px;top:69.12px;width:17.61px;height:17.78px;background:#f7c8cb"></div>
<div class="c" style="left:222.43px;top:69.12px;width:17.61px;height:17.78px;background:#f9d6d8"></div>
<div class="c" style="left:239.54px;top:69.12px;width:17.61px;height:17.78px;background:#f4adb1"></div>
<div class="c" style="left:0.00px;top:86.40px;width:17.61px;height:17.78px;background:#b5baf8"></div>
<div class="c" style="left:17.11px;top:86.40px;width:17.61px;height:17.78px;background:#bcc1f9"></div>
<div class="c" style="left:34.22px;top:86.40px;width:17.61px;height:17.78px;background:#dde0fc"></div>
<div class="c" style="left:51.33px;top:86.40px;width:17.61px;height:17.78px;background:#c1c6f9"></div>
<div class="c" style="left:68.44px;top:86.40px;width:17.61px;height:17.78px;background:#cdd1fa"></div>
<div class="c" style="left:85.55px;top:86.40px;width:17.61px;height:17.78px;background:#4e5bee"></div>
<div class="c" style="left:102.66px;top:86.40px;width:17.61px;height:17.78px;background:#8f98f4"></div>
<div class="c" style="left:119.77px;top:86.40px;width:17.61px;height:17.78px;background:#606bf0"></div>
<div class="c" style="left:136.88px;top:86.40px;width:17.61px;height:17.78px;background:#f09096"></div>
<div class="c" style="left:153.99px;top:86.40px;width:17.61px;height:17.78px;background:#b6bcf8"></div>
<div class="c" style="left:171.10px;top:86.40px;width:17.61px;height:17.78px;background:#f8cccf"></div>
<div class="c" style="left:188.21px;top:86.40px;width:17.61px;height:17.78px;background:#f9d4d6"></div>
<div class="c" style="left:205.32px;top:86.40px;width:17.61px;height:17.78px;background:#f3a7ac"></div>
<div class="c" style="left:222.43px;top:86.40px;width:17.61px;height:17.78px;background:#f19ca1"></div>
<div class="c" style="left:239.54px;top:86.40px;width:17.61px;height:17.78px;background:#f9d6d8"></div>
<div class="c" style="left:0.00px;top:103.68px;width:17.61px;height:17.78px;background:#bec2f9"></div>
<div class="c" style="left:17.11px;top:103.68px;width:17.61px;height:17.78px;background:#d8dbfb"></div>
<div class="c" style="left:34.22px;top:103.68px;width:17.61px;height:17.78px;background:#d6d9fb"></div>
<div class="c" style="left:51.33px;top:103.68px;width:17.61px;height:17.78px;background:#dfe1fc"></div>
<div class="c" style="left:68.44px;top:103.68px;width:17.61px;height:17.78px;background:#fafafe"></div>
<div class="c" style="left:85.55px;top:103.68px;width:17.61px;height:17.78px;background:#8f98f4"></div>
<div class="c" style="left:102.66px;top:103.68px;width:17.61px;height:17.78px;background:#4e5bee"></div>
<div class="c" style="left:119.77px;top:103.68px;width:17.61px;height:17.78px;background:#959df5"></div>
<div class="c" style="left:136.88px;top:103.68px;width:17.61px;height:17.78px;background:#f7c4c8"></div>
<div class="c" style="left:153.99px;top:103.68px;width:17.61px;height:17.78px;background:#b5baf8"></div>
<div class="c" style="left:171.10px;top:103.68px;width:17.61px;height:17.78px;background:#fbe2e3"></div>
<div class="c" style="left:188.21px;top:103.68px;width:17.61px;height:17.78px;background:#fbe2e3"></div>
<div class="c" style="left:205.32px;top:103.68px;width:17.61px;height:17.78px;background:#f9d2d4"></div>
<div class="c" style="left:222.43px;top:103.68px;width:17.61px;height:17.78px;background:#f3a5aa"></div>
<div class="c" style="left:239.54px;top:103.68px;width:17.61px;height:17.78px;background:#fdeff0"></div>
<div class="c" style="left:0.00px;top:120.96px;width:17.61px;height:17.78px;background:#c1c6f9"></div>
<div class="c" style="left:17.11px;top:120.96px;width:17.61px;height:17.78px;background:#c8ccfa"></div>
<div class="c" style="left:34.22px;top:120.96px;width:17.61px;height:17.78px;background:#e3e5fc"></div>
<div class="c" style="left:51.33px;top:120.96px;width:17.61px;height:17.78px;background:#d1d4fb"></div>
<div class="c" style="left:68.44px;top:120.96px;width:17.61px;height:17.78px;background:#d6d9fb"></div>
<div class="c" style="left:85.55px;top:120.96px;width:17.61px;height:17.78px;background:#606bf0"></div>
<div class="c" style="left:102.66px;top:120.96px;width:17.61px;height:17.78px;background:#959df5"></div>
<div class="c" style="left:119.77px;top:120.96px;width:17.61px;height:17.78px;background:#4e5bee"></div>
<div class="c" style="left:136.88px;top:120.96px;width:17.61px;height:17.78px;background:#f2a3a8"></div>
<div class="c" style="left:153.99px;top:120.96px;width:17.61px;height:17.78px;background:#a8aff7"></div>
<div class="c" style="left:171.10px;top:120.96px;width:17.61px;height:17.78px;background:#f9d4d6"></div>
<div class="c" style="left:188.21px;top:120.96px;width:17.61px;height:17.78px;background:#f9d4d6"></div>
<div class="c" style="left:205.32px;top:120.96px;width:17.61px;height:17.78px;background:#f4b3b7"></div>
<div class="c" style="left:222.43px;top:120.96px;width:17.61px;height:17.78px;background:#f3a5aa"></div>
<div class="c" style="left:239.54px;top:120.96px;width:17.61px;height:17.78px;background:#f9d4d6"></div>
<div class="c" style="left:0.00px;top:138.24px;width:17.61px;height:17.78px;background:#f29ea2"></div>
<div class="c" style="left:17.11px;top:138.24px;width:17.61px;height:17.78px;background:#fadcde"></div>
<div class="c" style="left:34.22px;top:138.24px;width:17.61px;height:17.78px;background:#fceaeb"></div>
<div class="c" style="left:51.33px;top:138.24px;width:17.61px;height:17.78px;background:#f5b5b9"></div>
<div class="c" style="left:68.44px;top:138.24px;width:17.61px;height:17.78px;background:#f8cccf"></div>
<div class="c" style="left:85.55px;top:138.24px;width:17.61px;height:17.78px;background:#f09096"></div>
<div class="c" style="left:102.66px;top:138.24px;width:17.61px;height:17.78px;background:#f7c4c8"></div>
<div class="c" style="left:119.77px;top:138.24px;width:17.61px;height:17.78px;background:#f2a3a8"></div>
<div class="c" style="left:136.88px;top:138.24px;width:17.61px;height:17.78px;background:#4e5bee"></div>
<div class="c" style="left:153.99px;top:138.24px;width:17.61px;height:17.78px;background:#f6bbbe"></div>
<div class="c" style="left:171.10px;top:138.24px;width:17.61px;height:17.78px;background:#e3e5fc"></div>
<div class="c" style="left:188.21px;top:138.24px;width:17.61px;height:17.78px;background:#acb2f7"></div>
<div class="c" style="left:205.32px;top:138.24px;width:17.61px;height:17.78px;background:#8f98f4"></div>
<div class="c" style="left:222.43px;top:138.24px;width:17.61px;height:17.78px;background:#c1c6f9"></div>
<div class="c" style="left:239.54px;top:138.24px;width:17.61px;height:17.78px;background:#b5baf8"></div>
<div class="c" style="left:0.00px;top:155.52px;width:17.61px;height:17.78px;background:#c1c6f9"></div>
<div class="c" style="left:17.11px;top:155.52px;width:17.61px;height:17.78px;background:#ffffff"></div>
<div class="c" style="left:34.22px;top:155.52px;width:17.61px;height:17.78px;background:#ecedfd"></div>
<div class="c" style="left:51.33px;top:155.52px;width:17.61px;height:17.78px;background:#d6d9fb"></div>
<div class="c" style="left:68.44px;top:155.52px;width:17.61px;height:17.78px;background:#e8eafd"></div>
<div class="c" style="left:85.55px;top:155.52px;width:17.61px;height:17.78px;background:#b6bcf8"></div>
<div class="c" style="left:102.66px;top:155.52px;width:17.61px;height:17.78px;background:#b5baf8"></div>
<div class="c" style="left:119.77px;top:155.52px;width:17.61px;height:17.78px;background:#a8aff7"></div>
<div class="c" style="left:136.88px;top:155.52px;width:17.61px;height:17.78px;background:#f6bbbe"></div>
<div class="c" style="left:153.99px;top:155.52px;width:17.61px;height:17.78px;background:#4e5bee"></div>
<div class="c" style="left:171.10px;top:155.52px;width:17.61px;height:17.78px;background:#f5b7bb"></div>
<div class="c" style="left:188.21px;top:155.52px;width:17.61px;height:17.78px;background:#f7c3c6"></div>
<div class="c" style="left:205.32px;top:155.52px;width:17.61px;height:17.78px;background:#f9d6d8"></div>
<div class="c" style="left:222.43px;top:155.52px;width:17.61px;height:17.78px;background:#ef8c92"></div>
<div class="c" style="left:239.54px;top:155.52px;width:17.61px;height:17.78px;background:#f6c1c4"></div>
<div class="c" style="left:0.00px;top:172.80px;width:17.61px;height:17.78px;background:#f5b7bb"></div>
<div class="c" style="left:17.11px;top:172.80px;width:17.61px;height:17.78px;background:#fdeff0"></div>
<div class="c" style="left:34.22px;top:172.80px;width:17.61px;height:17.78px;background:#f6bfc2"></div>
<div class="c" style="left:51.33px;top:172.80px;width:17.61px;height:17.78px;background:#fefbfb"></div>
<div class="c" style="left:68.44px;top:172.80px;width:17.61px;height:17.78px;background:#fbe4e5"></div>
<div class="c" style="left:85.55px;top:172.80px;width:17.61px;height:17.78px;background:#f8cccf"></div>
<div class="c" style="left:102.66px;top:172.80px;width:17.61px;height:17.78px;background:#fbe2e3"></div>
<div class="c" style="left:119.77px;top:172.80px;width:17.61px;height:17.78px;background:#f9d4d6"></div>
<div class="c" style="left:136.88px;top:172.80px;width:17.61px;height:17.78px;background:#e3e5fc"></div>
<div class="c" style="left:153.99px;top:172.80px;width:17.61px;height:17.78px;background:#f5b7bb"></div>
<div class="c" style="left:171.10px;top:172.80px;width:17.61px;height:17.78px;background:#4e5bee"></div>
<div class="c" style="left:188.21px;top:172.80px;width:17.61px;height:17.78px;background:#9199f4"></div>
<div class="c" style="left:205.32px;top:172.80px;width:17.61px;height:17.78px;background:#b3b8f8"></div>
<div class="c" style="left:222.43px;top:172.80px;width:17.61px;height:17.78px;background:#858ef3"></div>
<div class="c" style="left:239.54px;top:172.80px;width:17.61px;height:17.78px;background:#959df5"></div>
<div class="c" style="left:0.00px;top:190.08px;width:17.61px;height:17.78px;background:#f4afb3"></div>
<div class="c" style="left:17.11px;top:190.08px;width:17.61px;height:17.78px;background:#fcecec"></div>
<div class="c" style="left:34.22px;top:190.08px;width:17.61px;height:17.78px;background:#f4b1b5"></div>
<div class="c" style="left:51.33px;top:190.08px;width:17.61px;height:17.78px;background:#fef9f9"></div>
<div class="c" style="left:68.44px;top:190.08px;width:17.61px;height:17.78px;background:#fad8da"></div>
<div class="c" style="left:85.55px;top:190.08px;width:17.61px;height:17.78px;background:#f9d4d6"></div>
<div class="c" style="left:102.66px;top:190.08px;width:17.61px;height:17.78px;background:#fbe2e3"></div>
<div class="c" style="left:119.77px;top:190.08px;width:17.61px;height:17.78px;background:#f9d4d6"></div>
<div class="c" style="left:136.88px;top:190.08px;width:17.61px;height:17.78px;background:#acb2f7"></div>
<div class="c" style="left:153.99px;top:190.08px;width:17.61px;height:17.78px;background:#f7c3c6"></div>
<div class="c" style="left:171.10px;top:190.08px;width:17.61px;height:17.78px;background:#9199f4"></div>
<div class="c" style="left:188.21px;top:190.08px;width:17.61px;height:17.78px;background:#4e5bee"></div>
<div class="c" style="left:205.32px;top:190.08px;width:17.61px;height:17.78px;background:#98a0f5"></div>
<div class="c" style="left:222.43px;top:190.08px;width:17.61px;height:17.78px;background:#a8aff7"></div>
<div class="c" style="left:239.54px;top:190.08px;width:17.61px;height:17.78px;background:#7e87f3"></div>
<div class="c" style="left:0.00px;top:207.36px;width:17.61px;height:17.78px;background:#f6bdc0"></div>
<div class="c" style="left:17.11px;top:207.36px;width:17.61px;height:17.78px;background:#ffffff"></div>
<div class="c" style="left:34.22px;top:207.36px;width:17.61px;height:17.78px;background:#f8f8fe"></div>
<div class="c" style="left:51.33px;top:207.36px;width:17.61px;height:17.78px;background:#fbe4e5"></div>
<div class="c" style="left:68.44px;top:207.36px;width:17.61px;height:17.78px;background:#f7c8cb"></div>
<div class="c" style="left:85.55px;top:207.36px;width:17.61px;height:17.78px;background:#f3a7ac"></div>
<div class="c" style="left:102.66px;top:207.36px;width:17.61px;height:17.78px;background:#f9d2d4"></div>
<div class="c" style="left:119.77px;top:207.36px;width:17.61px;height:17.78px;background:#f4b3b7"></div>
<div class="c" style="left:136.88px;top:207.36px;width:17.61px;height:17.78px;background:#8f98f4"></div>
<div class="c" style="left:153.99px;top:207.36px;width:17.61px;height:17.78px;background:#f9d6d8"></div>
<div class="c" style="left:171.10px;top:207.36px;width:17.61px;height:17.78px;background:#b3b8f8"></div>
<div class="c" style="left:188.21px;top:207.36px;width:17.61px;height:17.78px;background:#98a0f5"></div>
<div class="c" style="left:205.32px;top:207.36px;width:17.61px;height:17.78px;background:#4e5bee"></div>
<div class="c" style="left:222.43px;top:207.36px;width:17.61px;height:17.78px;background:#bcc1f9"></div>
<div class="c" style="left:239.54px;top:207.36px;width:17.61px;height:17.78px;background:#9199f4"></div>
<div class="c" style="left:0.00px;top:224.64px;width:17.61px;height:17.78px;background:#f4b1b5"></div>
<div class="c" style="left:17.11px;top:224.64px;width:17.61px;height:17.78px;background:#fbe0e1"></div>
<div class="c" style="left:34.22px;top:224.64px;width:17.61px;height:17.78px;background:#f2a1a6"></div>
<div class="c" style="left:51.33px;top:224.64px;width:17.61px;height:17.78px;background:#fef7f8"></div>
<div class="c" style="left:68.44px;top:224.64px;width:17.61px;height:17.78px;background:#f9d6d8"></div>
<div class="c" style="left:85.55px;top:224.64px;width:17.61px;height:17.78px;background:#f19ca1"></div>
<div class="c" style="left:102.66px;top:224.64px;width:17.61px;height:17.78px;background:#f3a5aa"></div>
<div class="c" style="left:119.77px;top:224.64px;width:17.61px;height:17.78px;background:#f3a5aa"></div>
<div class="c" style="left:136.88px;top:224.64px;width:17.61px;height:17.78px;background:#c1c6f9"></div>
<div class="c" style="left:153.99px;top:224.64px;width:17.61px;height:17.78px;background:#ef8c92"></div>
<div class="c" style="left:171.10px;top:224.64px;width:17.61px;height:17.78px;background:#858ef3"></div>
<div class="c" style="left:188.21px;top:224.64px;width:17.61px;height:17.78px;background:#a8aff7"></div>
<div class="c" style="left:205.32px;top:224.64px;width:17.61px;height:17.78px;background:#bcc1f9"></div>
<div class="c" style="left:222.43px;top:224.64px;width:17.61px;height:17.78px;background:#4e5bee"></div>
<div class="c" style="left:239.54px;top:224.64px;width:17.61px;height:17.78px;background:#878ff3"></div>
<div class="c" style="left:0.00px;top:241.92px;width:17.61px;height:17.78px;background:#f6bfc2"></div>
<div class="c" style="left:17.11px;top:241.92px;width:17.61px;height:17.78px;background:#fef7f8"></div>
<div class="c" style="left:34.22px;top:241.92px;width:17.61px;height:17.78px;background:#f8cccf"></div>
<div class="c" style="left:51.33px;top:241.92px;width:17.61px;height:17.78px;background:#fef7f8"></div>
<div class="c" style="left:68.44px;top:241.92px;width:17.61px;height:17.78px;background:#f4adb1"></div>
<div class="c" style="left:85.55px;top:241.92px;width:17.61px;height:17.78px;background:#f9d6d8"></div>
<div class="c" style="left:102.66px;top:241.92px;width:17.61px;height:17.78px;background:#fdeff0"></div>
<div class="c" style="left:119.77px;top:241.92px;width:17.61px;height:17.78px;background:#f9d4d6"></div>
<div class="c" style="left:136.88px;top:241.92px;width:17.61px;height:17.78px;background:#b5baf8"></div>
<div class="c" style="left:153.99px;top:241.92px;width:17.61px;height:17.78px;background:#f6c1c4"></div>
<div class="c" style="left:171.10px;top:241.92px;width:17.61px;height:17.78px;background:#959df5"></div>
<div class="c" style="left:188.21px;top:241.92px;width:17.61px;height:17.78px;background:#7e87f3"></div>
<div class="c" style="left:205.32px;top:241.92px;width:17.61px;height:17.78px;background:#9199f4"></div>
<div class="c" style="left:222.43px;top:241.92px;width:17.61px;height:17.78px;background:#878ff3"></div>
<div class="c" style="left:239.54px;top:241.92px;width:17.61px;height:17.78px;background:#4e5bee"></div>
<div class="l" style="left:16.61px;top:0;width:1.0px;height:259.20000000000005px;background:#363636"></div>
<div class="l" style="top:16.78px;left:0;height:1.0px;width:256.65px;background:#363636"></div>
<div class="l" style="left:33.72px;top:0;width:1.0px;height:259.20000000000005px;background:#363636"></div>
<div class="l" style="top:34.06px;left:0;height:1.0px;width:256.65px;background:#363636"></div>
<div class="l" style="left:50.83px;top:0;width:1.0px;height:259.20000000000005px;background:#363636"></div>
<div class="l" style="top:51.34px;left:0;height:1.0px;width:256.65px;background:#363636"></div>
<div class="l" style="left:67.94px;top:0;width:1.0px;height:259.20000000000005px;background:#363636"></div>
<div class="l" style="top:68.62px;left:0;height:1.0px;width:256.65px;background:#363636"></div>
<div class="l" style="left:85.05px;top:0;width:1.0px;height:259.20000000000005px;background:#363636"></div>
<div class="l" style="top:85.90px;left:0;height:1.0px;width:256.65px;background:#363636"></div>
<div class="l" style="left:102.16px;top:0;width:1.0px;height:259.20000000000005px;background:#363636"></div>
<div class="l" style="top:103.18px;left:0;height:1.0px;width:256.65px;background:#363636"></div>
<div class="l" style="left:119.27px;top:0;width:1.0px;height:259.20000000000005px;background:#363636"></div>
<div class="l" style="top:120.46px;left:0;height:1.0px;width:256.65px;background:#363636"></div>
<div class="l" style="left:136.38px;top:0;width:1.0px;height:259.20000000000005px;background:#363636"></div>
<div class="l" style="top:137.74px;left:0;height:1.0px;width:256.65px;background:#363636"></div>
<div class="l" style="left:153.49px;top:0;width:1.0px;height:259.20000000000005px;background:#363636"></div>
<div class="l" style="top:155.02px;left:0;height:1.0px;width:256.65px;background:#363636"></div>
<div class="l" style="left:170.60px;top:0;width:1.0px;height:259.20000000000005px;background:#363636"></div>
<div class="l" style="top:172.30px;left:0;height:1.0px;width:256.65px;background:#363636"></div>
<div class="l" style="left:187.71px;top:0;width:1.0px;height:259.20000000000005px;background:#363636"></div>
<div class="l" style="top:189.58px;left:0;height:1.0px;width:256.65px;background:#363636"></div>
<div class="l" style="left:204.82px;top:0;width:1.0px;height:259.20000000000005px;background:#363636"></div>
<div class="l" style="top:206.86px;left:0;height:1.0px;width:256.65px;background:#363636"></div>
<div class="l" style="left:221.93px;top:0;width:1.0px;height:259.20000000000005px;background:#363636"></div>
<div class="l" style="top:224.14px;left:0;height:1.0px;width:256.65px;background:#363636"></div>
<div class="l" style="left:239.04px;top:0;width:1.0px;height:259.20000000000005px;background:#363636"></div>
<div class="l" style="top:241.42px;left:0;height:1.0px;width:256.65px;background:#363636"></div>
<div class="v" style="left:0.00px;top:0.00px;width:17.11px;height:17.28px;line-height:17.28px;font-size:7px;color:#ffffff;transform:scaleX(1);-webkit-text-stroke:0px #ffffff">1.00</div>
<div class="v" style="left:17.11px;top:0.00px;width:17.11px;height:17.28px;line-height:17.28px;font-size:7px;color:#000000;transform:scaleX(1);-webkit-text-stroke:0.25px #000000">0.40</div>
<div class="v" style="left:34.22px;top:0.00px;width:17.11px;height:17.28px;line-height:17.28px;font-size:7px;color:#000000;transform:scaleX(1);-webkit-text-stroke:0.25px #000000">0.31</div>
<div class="v" style="left:51.33px;top:0.00px;width:17.11px;height:17.28px;line-height:17.28px;font-size:7px;color:#000000;transform:scaleX(1);-webkit-text-stroke:0.25px #000000">0.52</div>
<div class="v" style="left:68.44px;top:0.00px;width:17.11px;height:17.28px;line-height:17.28px;font-size:7px;color:#000000;transform:scaleX(1);-webkit-text-stroke:0.25px #000000">0.37</div>
<div class="v" style="left:85.55px;top:0.00px;width:17.11px;height:17.28px;line-height:17.28px;font-size:7px;color:#000000;transform:scaleX(1);-webkit-text-stroke:0.25px #000000">0.42</div>
<div class="v" style="left:102.66px;top:0.00px;width:17.11px;height:17.28px;line-height:17.28px;font-size:7px;color:#000000;transform:scaleX(1);-webkit-text-stroke:0.25px #000000">0.37</div>
<div class="v" style="left:119.77px;top:0.00px;width:17.11px;height:17.28px;line-height:17.28px;font-size:7px;color:#000000;transform:scaleX(1);-webkit-text-stroke:0.25px #000000">0.35</div>
<div class="v" style="left:136.88px;top:0.00px;width:17.11px;height:17.28px;line-height:17.28px;font-size:7px;color:#000000;transform:scaleX(1);-webkit-text-stroke:0.25px #000000">-0.50</div>
<div class="v" style="left:153.99px;top:0.00px;width:17.11px;height:17.28px;line-height:17.28px;font-size:7px;color:#000000;transform:scaleX(1);-webkit-text-stroke:0.25px #000000">0.35</div>
<div class="v" style="left:171.10px;top:0.00px;width:17.11px;height:17.28px;line-height:17.28px;font-size:7px;color:#000000;transform:scaleX(1);-webkit-text-stroke:0.25px #000000">-0.37</div>
<div class="v" style="left:188.21px;top:0.00px;width:17.11px;height:17.28px;line-height:17.28px;font-size:7px;color:#000000;transform:scaleX(1);-webkit-text-stroke:0.25px #000000">-0.41</div>
<div class="v" style="left:205.32px;top:0.00px;width:17.11px;height:17.28px;line-height:17.28px;font-size:7px;color:#000000;transform:scaleX(1);-webkit-text-stroke:0.25px #000000">-0.34</div>
<div class="v" style="left:222.43px;top:0.00px;width:17.11px;height:17.28px;line-height:17.28px;font-size:7px;color:#000000;transform:scaleX(1);-webkit-text-stroke:0.25px #000000">-0.40</div>
<div class="v" style="left:239.54px;top:0.00px;width:17.11px;height:17.28px;line-height:17.28px;font-size:7px;color:#000000;transform:scaleX(1);-webkit-text-stroke:0.25px #000000">-0.33</div>
<div class="v" style="left:0.00px;top:17.28px;width:17.11px;height:17.28px;line-height:17.28px;font-size:7px;color:#000000;transform:scaleX(1);-webkit-text-stroke:0.25px #000000">0.40</div>
<div class="v" style="left:17.11px;top:17.28px;width:17.11px;height:17.28px;line-height:17.28px;font-size:7px;color:#ffffff;transform:scaleX(1);-webkit-text-stroke:0px #ffffff">1.00</div>
<div class="v" style="left:34.22px;top:17.28px;width:17.11px;height:17.28px;line-height:17.28px;font-size:7px;color:#000000;transform:scaleX(1);-webkit-text-stroke:0.25px #000000">0.39</div>
<div class="v" style="left:51.33px;top:17.28px;width:17.11px;height:17.28px;line-height:17.28px;font-size:7px;color:#000000;transform:scaleX(1);-webkit-text-stroke:0.25px #000000">0.43</div>
<div class="v" style="left:68.44px;top:17.28px;width:17.11px;height:17.28px;line-height:17.28px;font-size:7px;color:#000000;transform:scaleX(1);-webkit-text-stroke:0.25px #000000">0.22</div>
<div class="v" style="left:85.55px;top:17.28px;width:17.11px;height:17.28px;line-height:17.28px;font-size:7px;color:#000000;transform:scaleX(1);-webkit-text-stroke:0.25px #000000">0.38</div>
<div class="v" style="left:102.66px;top:17.28px;width:17.11px;height:17.28px;line-height:17.28px;font-size:7px;color:#000000;transform:scaleX(1);-webkit-text-stroke:0.25px #000000">0.22</div>
<div class="v" style="left:119.77px;top:17.28px;width:17.11px;height:17.28px;line-height:17.28px;font-size:7px;color:#000000;transform:scaleX(1);-webkit-text-stroke:0.25px #000000">0.31</div>
<div class="v" style="left:136.88px;top:17.28px;width:17.11px;height:17.28px;line-height:17.28px;font-size:7px;color:#000000;transform:scaleX(1);-webkit-text-stroke:0.25px #000000">-0.18</div>
<div class="v" style="left:171.10px;top:17.28px;width:17.11px;height:17.28px;line-height:17.28px;font-size:7px;color:#000000;transform:scaleX(1);-webkit-text-stroke:0.25px #000000">-0.08</div>
<div class="v" style="left:188.21px;top:17.28px;width:17.11px;height:17.28px;line-height:17.28px;font-size:7px;color:#000000;transform:scaleX(1);-webkit-text-stroke:0.25px #000000">-0.10</div>
<div class="v" style="left:222.43px;top:17.28px;width:17.11px;height:17.28px;line-height:17.28px;font-size:7px;color:#000000;transform:scaleX(1);-webkit-text-stroke:0.25px #000000">-0.16</div>
<div class="v" style="left:239.54px;top:17.28px;width:17.11px;height:17.28px;line-height:17.28px;font-size:7px;color:#000000;transform:scaleX(1);-webkit-text-stroke:0.25px #000000">-0.04</div>
<div class="v" style="left:0.00px;top:34.56px;width:17.11px;height:17.28px;line-height:17.28px;font-size:7px;color:#000000;transform:scaleX(1);-webkit-text-stroke:0.25px #000000">0.31</div>
<div class="v" style="left:17.11px;top:34.56px;width:17.11px;height:17.28px;line-height:17.28px;font-size:7px;color:#000000;transform:scaleX(1);-webkit-text-stroke:0.25px #000000">0.39</div>
<div class="v" style="left:34.22px;top:34.56px;width:17.11px;height:17.28px;line-height:17.28px;font-size:7px;color:#ffffff;transform:scaleX(1);-webkit-text-stroke:0px #ffffff">1.00</div>
<div class="v" style="left:51.33px;top:34.56px;width:17.11px;height:17.28px;line-height:17.28px;font-size:7px;color:#000000;transform:scaleX(1);-webkit-text-stroke:0.25px #000000">-0.24</div>
<div class="v" style="left:68.44px;top:34.56px;width:17.11px;height:17.28px;line-height:17.28px;font-size:7px;color:#000000;transform:scaleX(1);-webkit-text-stroke:0.25px #000000">-0.16</div>
<div class="v" style="left:85.55px;top:34.56px;width:17.11px;height:17.28px;line-height:17.28px;font-size:7px;color:#000000;transform:scaleX(1);-webkit-text-stroke:0.25px #000000">0.19</div>
<div class="v" style="left:102.66px;top:34.56px;width:17.11px;height:17.28px;line-height:17.28px;font-size:7px;color:#000000;transform:scaleX(1);-webkit-text-stroke:0.25px #000000">0.23</div>
<div class="v" style="left:119.77px;top:34.56px;width:17.11px;height:17.28px;line-height:17.28px;font-size:7px;color:#000000;transform:scaleX(1);-webkit-text-stroke:0.25px #000000">0.16</div>
<div class="v" style="left:136.88px;top:34.56px;width:17.11px;height:17.28px;line-height:17.28px;font-size:7px;color:#000000;transform:scaleX(1);-webkit-text-stroke:0.25px #000000">-0.11</div>
<div class="v" style="left:153.99px;top:34.56px;width:17.11px;height:17.28px;line-height:17.28px;font-size:7px;color:#000000;transform:scaleX(1);-webkit-text-stroke:0.25px #000000">0.11</div>
<div class="v" style="left:171.10px;top:34.56px;width:17.11px;height:17.28px;line-height:17.28px;font-size:7px;color:#000000;transform:scaleX(1);-webkit-text-stroke:0.25px #000000">-0.33</div>
<div class="v" style="left:188.21px;top:34.56px;width:17.11px;height:17.28px;line-height:17.28px;font-size:7px;color:#000000;transform:scaleX(1);-webkit-text-stroke:0.25px #000000">-0.40</div>
<div class="v" style="left:205.32px;top:34.56px;width:17.11px;height:17.28px;line-height:17.28px;font-size:7px;color:#000000;transform:scaleX(1);-webkit-text-stroke:0.25px #000000">0.04</div>
<div class="v" style="left:222.43px;top:34.56px;width:17.11px;height:17.28px;line-height:17.28px;font-size:7px;color:#000000;transform:scaleX(1);-webkit-text-stroke:0.25px #000000">-0.48</div>
<div class="v" style="left:239.54px;top:34.56px;width:17.11px;height:17.28px;line-height:17.28px;font-size:7px;color:#000000;transform:scaleX(1);-webkit-text-stroke:0.25px #000000">-0.26</div>
<div class="v" style="left:0.00px;top:51.84px;width:17.11px;height:17.28px;line-height:17.28px;font-size:7px;color:#000000;transform:scaleX(1);-webkit-text-stroke:0.25px #000000">0.52</div>
<div class="v" style="left:17.11px;top:51.84px;width:17.11px;height:17.28px;line-height:17.28px;font-size:7px;color:#000000;transform:scaleX(1);-webkit-text-stroke:0.25px #000000">0.43</div>
<div class="v" style="left:34.22px;top:51.84px;width:17.11px;height:17.28px;line-height:17.28px;font-size:7px;color:#000000;transform:scaleX(1);-webkit-text-stroke:0.25px #000000">-0.24</div>
<div class="v" style="left:51.33px;top:51.84px;width:17.11px;height:17.28px;line-height:17.28px;font-size:7px;color:#ffffff;transform:scaleX(1);-webkit-text-stroke:0px #ffffff">1.00</div>
<div class="v" style="left:68.44px;top:51.84px;width:17.11px;height:17.28px;line-height:17.28px;font-size:7px;color:#000000;transform:scaleX(1);-webkit-text-stroke:0.25px #000000">0.41</div>
<div class="v" style="left:85.55px;top:51.84px;width:17.11px;height:17.28px;line-height:17.28px;font-size:7px;color:#000000;transform:scaleX(1);-webkit-text-stroke:0.25px #000000">0.35</div>
<div class="v" style="left:102.66px;top:51.84px;width:17.11px;height:17.28px;line-height:17.28px;font-size:7px;color:#000000;transform:scaleX(1);-webkit-text-stroke:0.25px #000000">0.18</div>
<div class="v" style="left:119.77px;top:51.84px;width:17.11px;height:17.28px;line-height:17.28px;font-size:7px;color:#000000;transform:scaleX(1);-webkit-text-stroke:0.25px #000000">0.26</div>
<div class="v" style="left:136.88px;top:51.84px;width:17.11px;height:17.28px;line-height:17.28px;font-size:7px;color:#000000;transform:scaleX(1);-webkit-text-stroke:0.25px #000000">-0.38</div>
<div class="v" style="left:153.99px;top:51.84px;width:17.11px;height:17.28px;line-height:17.28px;font-size:7px;color:#000000;transform:scaleX(1);-webkit-text-stroke:0.25px #000000">0.23</div>
<div class="v" style="left:171.10px;top:51.84px;width:17.11px;height:17.28px;line-height:17.28px;font-size:7px;color:#000000;transform:scaleX(1);-webkit-text-stroke:0.25px #000000">-0.02</div>
<div class="v" style="left:188.21px;top:51.84px;width:17.11px;height:17.28px;line-height:17.28px;font-size:7px;color:#000000;transform:scaleX(1);-webkit-text-stroke:0.25px #000000">-0.03</div>
<div class="v" style="left:205.32px;top:51.84px;width:17.11px;height:17.28px;line-height:17.28px;font-size:7px;color:#000000;transform:scaleX(1);-webkit-text-stroke:0.25px #000000">-0.14</div>
<div class="v" style="left:222.43px;top:51.84px;width:17.11px;height:17.28px;line-height:17.28px;font-size:7px;color:#000000;transform:scaleX(1);-webkit-text-stroke:0.25px #000000">-0.04</div>
<div class="v" style="left:239.54px;top:51.84px;width:17.11px;height:17.28px;line-height:17.28px;font-size:7px;color:#000000;transform:scaleX(1);-webkit-text-stroke:0.25px #000000">-0.04</div>
<div class="v" style="left:0.00px;top:69.12px;width:17.11px;height:17.28px;line-height:17.28px;font-size:7px;color:#000000;transform:scaleX(1);-webkit-text-stroke:0.25px #000000">0.37</div>
<div class="v" style="left:17.11px;top:69.12px;width:17.11px;height:17.28px;line-height:17.28px;font-size:7px;color:#000000;transform:scaleX(1);-webkit-text-stroke:0.25px #000000">0.22</div>
<div class="v" style="left:34.22px;top:69.12px;width:17.11px;height:17.28px;line-height:17.28px;font-size:7px;color:#000000;transform:scaleX(1);-webkit-text-stroke:0.25px #000000">-0.16</div>
<div class="v" style="left:51.33px;top:69.12px;width:17.11px;height:17.28px;line-height:17.28px;font-size:7px;color:#000000;transform:scaleX(1);-webkit-text-stroke:0.25px #000000">0.41</div>
<div class="v" style="left:68.44px;top:69.12px;width:17.11px;height:17.28px;line-height:17.28px;font-size:7px;color:#ffffff;transform:scaleX(1);-webkit-text-stroke:0px #ffffff">1.00</div>
<div class="v" style="left:85.55px;top:69.12px;width:17.11px;height:17.28px;line-height:17.28px;font-size:7px;color:#000000;transform:scaleX(1);-webkit-text-stroke:0.25px #000000">0.28</div>
<div class="v" style="left:102.66px;top:69.12px;width:17.11px;height:17.28px;line-height:17.28px;font-size:7px;color:#000000;transform:scaleX(1);-webkit-text-stroke:0.25px #000000">0.03</div>
<div class="v" style="left:119.77px;top:69.12px;width:17.11px;height:17.28px;line-height:17.28px;font-size:7px;color:#000000;transform:scaleX(1);-webkit-text-stroke:0.25px #000000">0.23</div>
<div class="v" style="left:136.88px;top:69.12px;width:17.11px;height:17.28px;line-height:17.28px;font-size:7px;color:#000000;transform:scaleX(1);-webkit-text-stroke:0.25px #000000">-0.26</div>
<div class="v" style="left:153.99px;top:69.12px;width:17.11px;height:17.28px;line-height:17.28px;font-size:7px;color:#000000;transform:scaleX(1);-webkit-text-stroke:0.25px #000000">0.13</div>
<div class="v" style="left:171.10px;top:69.12px;width:17.11px;height:17.28px;line-height:17.28px;font-size:7px;color:#000000;transform:scaleX(1);-webkit-text-stroke:0.25px #000000">-0.14</div>
<div class="v" style="left:188.21px;top:69.12px;width:17.11px;height:17.28px;line-height:17.28px;font-size:7px;color:#000000;transform:scaleX(1);-webkit-text-stroke:0.25px #000000">-0.20</div>
<div class="v" style="left:205.32px;top:69.12px;width:17.11px;height:17.28px;line-height:17.28px;font-size:7px;color:#000000;transform:scaleX(1);-webkit-text-stroke:0.25px #000000">-0.28</div>
<div class="v" style="left:222.43px;top:69.12px;width:17.11px;height:17.28px;line-height:17.28px;font-size:7px;color:#000000;transform:scaleX(1);-webkit-text-stroke:0.25px #000000">-0.21</div>
<div class="v" style="left:239.54px;top:69.12px;width:17.11px;height:17.28px;line-height:17.28px;font-size:7px;color:#000000;transform:scaleX(1);-webkit-text-stroke:0.25px #000000">-0.42</div>
<div class="v" style="left:0.00px;top:86.40px;width:17.11px;height:17.28px;line-height:17.28px;font-size:7px;color:#000000;transform:scaleX(1);-webkit-text-stroke:0.25px #000000">0.42</div>
<div class="v" style="left:17.11px;top:86.40px;width:17.11px;height:17.28px;line-height:17.28px;font-size:7px;color:#000000;transform:scaleX(1);-webkit-text-stroke:0.25px #000000">0.38</div>
<div class="v" style="left:34.22px;top:86.40px;width:17.11px;height:17.28px;line-height:17.28px;font-size:7px;color:#000000;transform:scaleX(1);-webkit-text-stroke:0.25px #000000">0.19</div>
<div class="v" style="left:51.33px;top:86.40px;width:17.11px;height:17.28px;line-height:17.28px;font-size:7px;color:#000000;transform:scaleX(1);-webkit-text-stroke:0.25px #000000">0.35</div>
<div class="v" style="left:68.44px;top:86.40px;width:17.11px;height:17.28px;line-height:17.28px;font-size:7px;color:#000000;transform:scaleX(1);-webkit-text-stroke:0.25px #000000">0.28</div>
<div class="v" style="left:85.55px;top:86.40px;width:17.11px;height:17.28px;line-height:17.28px;font-size:7px;color:#ffffff;transform:scaleX(1);-webkit-text-stroke:0px #ffffff">1.00</div>
<div class="v" style="left:102.66px;top:86.40px;width:17.11px;height:17.28px;line-height:17.28px;font-size:7px;color:#000000;transform:scaleX(1);-webkit-text-stroke:0.25px #000000">0.63</div>
<div class="v" style="left:119.77px;top:86.40px;width:17.11px;height:17.28px;line-height:17.28px;font-size:7px;color:#000000;transform:scaleX(1);-webkit-text-stroke:0.25px #000000">0.90</div>
<div class="v" style="left:136.88px;top:86.40px;width:17.11px;height:17.28px;line-height:17.28px;font-size:7px;color:#000000;transform:scaleX(1);-webkit-text-stroke:0.25px #000000">-0.57</div>
<div class="v" style="left:153.99px;top:86.40px;width:17.11px;height:17.28px;line-height:17.28px;font-size:7px;color:#000000;transform:scaleX(1);-webkit-text-stroke:0.25px #000000">0.41</div>
<div class="v" style="left:171.10px;top:86.40px;width:17.11px;height:17.28px;line-height:17.28px;font-size:7px;color:#000000;transform:scaleX(1);-webkit-text-stroke:0.25px #000000">-0.26</div>
<div class="v" style="left:188.21px;top:86.40px;width:17.11px;height:17.28px;line-height:17.28px;font-size:7px;color:#000000;transform:scaleX(1);-webkit-text-stroke:0.25px #000000">-0.22</div>
<div class="v" style="left:205.32px;top:86.40px;width:17.11px;height:17.28px;line-height:17.28px;font-size:7px;color:#000000;transform:scaleX(1);-webkit-text-stroke:0.25px #000000">-0.45</div>
<div class="v" style="left:222.43px;top:86.40px;width:17.11px;height:17.28px;line-height:17.28px;font-size:7px;color:#000000;transform:scaleX(1);-webkit-text-stroke:0.25px #000000">-0.51</div>
<div class="v" style="left:239.54px;top:86.40px;width:17.11px;height:17.28px;line-height:17.28px;font-size:7px;color:#000000;transform:scaleX(1);-webkit-text-stroke:0.25px #000000">-0.21</div>
<div class="v" style="left:0.00px;top:103.68px;width:17.11px;height:17.28px;line-height:17.28px;font-size:7px;color:#000000;transform:scaleX(1);-webkit-text-stroke:0.25px #000000">0.37</div>
<div class="v" style="left:17.11px;top:103.68px;width:17.11px;height:17.28px;line-height:17.28px;font-size:7px;color:#000000;transform:scaleX(1);-webkit-text-stroke:0.25px #000000">0.22</div>
<div class="v" style="left:34.22px;top:103.68px;width:17.11px;height:17.28px;line-height:17.28px;font-size:7px;color:#000000;transform:scaleX(1);-webkit-text-stroke:0.25px #000000">0.23</div>
<div class="v" style="left:51.33px;top:103.68px;width:17.11px;height:17.28px;line-height:17.28px;font-size:7px;color:#000000;transform:scaleX(1);-webkit-text-stroke:0.25px #000000">0.18</div>
<div class="v" style="left:68.44px;top:103.68px;width:17.11px;height:17.28px;line-height:17.28px;font-size:7px;color:#000000;transform:scaleX(1);-webkit-text-stroke:0.25px #000000">0.03</div>
<div class="v" style="left:85.55px;top:103.68px;width:17.11px;height:17.28px;line-height:17.28px;font-size:7px;color:#000000;transform:scaleX(1);-webkit-text-stroke:0.25px #000000">0.63</div>
<div class="v" style="left:102.66px;top:103.68px;width:17.11px;height:17.28px;line-height:17.28px;font-size:7px;color:#ffffff;transform:scaleX(1);-webkit-text-stroke:0px #ffffff">1.00</div>
<div class="v" style="left:119.77px;top:103.68px;width:17.11px;height:17.28px;line-height:17.28px;font-size:7px;color:#000000;transform:scaleX(1);-webkit-text-stroke:0.25px #000000">0.60</div>
<div class="v" style="left:136.88px;top:103.68px;width:17.11px;height:17.28px;line-height:17.28px;font-size:7px;color:#000000;transform:scaleX(1);-webkit-text-stroke:0.25px #000000">-0.30</div>
<div class="v" style="left:153.99px;top:103.68px;width:17.11px;height:17.28px;line-height:17.28px;font-size:7px;color:#000000;transform:scaleX(1);-webkit-text-stroke:0.25px #000000">0.42</div>
<div class="v" style="left:171.10px;top:103.68px;width:17.11px;height:17.28px;line-height:17.28px;font-size:7px;color:#000000;transform:scaleX(1);-webkit-text-stroke:0.25px #000000">-0.15</div>
<div class="v" style="left:188.21px;top:103.68px;width:17.11px;height:17.28px;line-height:17.28px;font-size:7px;color:#000000;transform:scaleX(1);-webkit-text-stroke:0.25px #000000">-0.15</div>
<div class="v" style="left:205.32px;top:103.68px;width:17.11px;height:17.28px;line-height:17.28px;font-size:7px;color:#000000;transform:scaleX(1);-webkit-text-stroke:0.25px #000000">-0.23</div>
<div class="v" style="left:222.43px;top:103.68px;width:17.11px;height:17.28px;line-height:17.28px;font-size:7px;color:#000000;transform:scaleX(1);-webkit-text-stroke:0.25px #000000">-0.46</div>
<div class="v" style="left:239.54px;top:103.68px;width:17.11px;height:17.28px;line-height:17.28px;font-size:7px;color:#000000;transform:scaleX(1);-webkit-text-stroke:0.25px #000000">-0.08</div>
<div class="v" style="left:0.00px;top:120.96px;width:17.11px;height:17.28px;line-height:17.28px;font-size:7px;color:#000000;transform:scaleX(1);-webkit-text-stroke:0.25px #000000">0.35</div>
<div class="v" style="left:17.11px;top:120.96px;width:17.11px;height:17.28px;line-height:17.28px;font-size:7px;color:#000000;transform:scaleX(1);-webkit-text-stroke:0.25px #000000">0.31</div>
<div class="v" style="left:34.22px;top:120.96px;width:17.11px;height:17.28px;line-height:17.28px;font-size:7px;color:#000000;transform:scaleX(1);-webkit-text-stroke:0.25px #000000">0.16</div>
<div class="v" style="left:51.33px;top:120.96px;width:17.11px;height:17.28px;line-height:17.28px;font-size:7px;color:#000000;transform:scaleX(1);-webkit-text-stroke:0.25px #000000">0.26</div>
<div class="v" style="left:68.44px;top:120.96px;width:17.11px;height:17.28px;line-height:17.28px;font-size:7px;color:#000000;transform:scaleX(1);-webkit-text-stroke:0.25px #000000">0.23</div>
<div class="v" style="left:85.55px;top:120.96px;width:17.11px;height:17.28px;line-height:17.28px;font-size:7px;color:#000000;transform:scaleX(1);-webkit-text-stroke:0.25px #000000">0.90</div>
<div class="v" style="left:102.66px;top:120.96px;width:17.11px;height:17.28px;line-height:17.28px;font-size:7px;color:#000000;transform:scaleX(1);-webkit-text-stroke:0.25px #000000">0.60</div>
<div class="v" style="left:119.77px;top:120.96px;width:17.11px;height:17.28px;line-height:17.28px;font-size:7px;color:#ffffff;transform:scaleX(1);-webkit-text-stroke:0px #ffffff">1.00</div>
<div class="v" style="left:136.88px;top:120.96px;width:17.11px;height:17.28px;line-height:17.28px;font-size:7px;color:#000000;transform:scaleX(1);-webkit-text-stroke:0.25px #000000">-0.47</div>
<div class="v" style="left:153.99px;top:120.96px;width:17.11px;height:17.28px;line-height:17.28px;font-size:7px;color:#000000;transform:scaleX(1);-webkit-text-stroke:0.25px #000000">0.49</div>
<div class="v" style="left:171.10px;top:120.96px;width:17.11px;height:17.28px;line-height:17.28px;font-size:7px;color:#000000;transform:scaleX(1);-webkit-text-stroke:0.25px #000000">-0.22</div>
<div class="v" style="left:188.21px;top:120.96px;width:17.11px;height:17.28px;line-height:17.28px;font-size:7px;color:#000000;transform:scaleX(1);-webkit-text-stroke:0.25px #000000">-0.22</div>
<div class="v" style="left:205.32px;top:120.96px;width:17.11px;height:17.28px;line-height:17.28px;font-size:7px;color:#000000;transform:scaleX(1);-webkit-text-stroke:0.25px #000000">-0.39</div>
<div class="v" style="left:222.43px;top:120.96px;width:17.11px;height:17.28px;line-height:17.28px;font-size:7px;color:#000000;transform:scaleX(1);-webkit-text-stroke:0.25px #000000">-0.46</div>
<div class="v" style="left:239.54px;top:120.96px;width:17.11px;height:17.28px;line-height:17.28px;font-size:7px;color:#000000;transform:scaleX(1);-webkit-text-stroke:0.25px #000000">-0.22</div>
<div class="v" style="left:0.00px;top:138.24px;width:17.11px;height:17.28px;line-height:17.28px;font-size:7px;color:#000000;transform:scaleX(1);-webkit-text-stroke:0.25px #000000">-0.50</div>
<div class="v" style="left:17.11px;top:138.24px;width:17.11px;height:17.28px;line-height:17.28px;font-size:7px;color:#000000;transform:scaleX(1);-webkit-text-stroke:0.25px #000000">-0.18</div>
<div class="v" style="left:34.22px;top:138.24px;width:17.11px;height:17.28px;line-height:17.28px;font-size:7px;color:#000000;transform:scaleX(1);-webkit-text-stroke:0.25px #000000">-0.11</div>
<div class="v" style="left:51.33px;top:138.24px;width:17.11px;height:17.28px;line-height:17.28px;font-size:7px;color:#000000;transform:scaleX(1);-webkit-text-stroke:0.25px #000000">-0.38</div>
<div class="v" style="left:68.44px;top:138.24px;width:17.11px;height:17.28px;line-height:17.28px;font-size:7px;color:#000000;transform:scaleX(1);-webkit-text-stroke:0.25px #000000">-0.26</div>
<div class="v" style="left:85.55px;top:138.24px;width:17.11px;height:17.28px;line-height:17.28px;font-size:7px;color:#000000;transform:scaleX(1);-webkit-text-stroke:0.25px #000000">-0.57</div>
<div class="v" style="left:102.66px;top:138.24px;width:17.11px;height:17.28px;line-height:17.28px;font-size:7px;color:#000000;transform:scaleX(1);-webkit-text-stroke:0.25px #000000">-0.30</div>
<div class="v" style="left:119.77px;top:138.24px;width:17.11px;height:17.28px;line-height:17.28px;font-size:7px;color:#000000;transform:scaleX(1);-webkit-text-stroke:0.25px #000000">-0.47</div>
<div class="v" style="left:136.88px;top:138.24px;width:17.11px;height:17.28px;line-height:17.28px;font-size:7px;color:#ffffff;transform:scaleX(1);-webkit-text-stroke:0px #ffffff">1.00</div>
<div class="v" style="left:153.99px;top:138.24px;width:17.11px;height:17.28px;line-height:17.28px;font-size:7px;color:#000000;transform:scaleX(1);-webkit-text-stroke:0.25px #000000">-0.35</div>
<div class="v" style="left:171.10px;top:138.24px;width:17.11px;height:17.28px;line-height:17.28px;font-size:7px;color:#000000;transform:scaleX(1);-webkit-text-stroke:0.25px #000000">0.16</div>
<div class="v" style="left:188.21px;top:138.24px;width:17.11px;height:17.28px;line-height:17.28px;font-size:7px;color:#000000;transform:scaleX(1);-webkit-text-stroke:0.25px #000000">0.47</div>
<div class="v" style="left:205.32px;top:138.24px;width:17.11px;height:17.28px;line-height:17.28px;font-size:7px;color:#000000;transform:scaleX(1);-webkit-text-stroke:0.25px #000000">0.63</div>
<div class="v" style="left:222.43px;top:138.24px;width:17.11px;height:17.28px;line-height:17.28px;font-size:7px;color:#000000;transform:scaleX(1);-webkit-text-stroke:0.25px #000000">0.35</div>
<div class="v" style="left:239.54px;top:138.24px;width:17.11px;height:17.28px;line-height:17.28px;font-size:7px;color:#000000;transform:scaleX(1);-webkit-text-stroke:0.25px #000000">0.42</div>
<div class="v" style="left:0.00px;top:155.52px;width:17.11px;height:17.28px;line-height:17.28px;font-size:7px;color:#000000;transform:scaleX(1);-webkit-text-stroke:0.25px #000000">0.35</div>
<div class="v" style="left:34.22px;top:155.52px;width:17.11px;height:17.28px;line-height:17.28px;font-size:7px;color:#000000;transform:scaleX(1);-webkit-text-stroke:0.25px #000000">0.11</div>
<div class="v" style="left:51.33px;top:155.52px;width:17.11px;height:17.28px;line-height:17.28px;font-size:7px;color:#000000;transform:scaleX(1);-webkit-text-stroke:0.25px #000000">0.23</div>
<div class="v" style="left:68.44px;top:155.52px;width:17.11px;height:17.28px;line-height:17.28px;font-size:7px;color:#000000;transform:scaleX(1);-webkit-text-stroke:0.25px #000000">0.13</div>
<div class="v" style="left:85.55px;top:155.52px;width:17.11px;height:17.28px;line-height:17.28px;font-size:7px;color:#000000;transform:scaleX(1);-webkit-text-stroke:0.25px #000000">0.41</div>
<div class="v" style="left:102.66px;top:155.52px;width:17.11px;height:17.28px;line-height:17.28px;font-size:7px;color:#000000;transform:scaleX(1);-webkit-text-stroke:0.25px #000000">0.42</div>
<div class="v" style="left:119.77px;top:155.52px;width:17.11px;height:17.28px;line-height:17.28px;font-size:7px;color:#000000;transform:scaleX(1);-webkit-text-stroke:0.25px #000000">0.49</div>
<div class="v" style="left:136.88px;top:155.52px;width:17.11px;height:17.28px;line-height:17.28px;font-size:7px;color:#000000;transform:scaleX(1);-webkit-text-stroke:0.25px #000000">-0.35</div>
<div class="v" style="left:153.99px;top:155.52px;width:17.11px;height:17.28px;line-height:17.28px;font-size:7px;color:#ffffff;transform:scaleX(1);-webkit-text-stroke:0px #ffffff">1.00</div>
<div class="v" style="left:171.10px;top:155.52px;width:17.11px;height:17.28px;line-height:17.28px;font-size:7px;color:#000000;transform:scaleX(1);-webkit-text-stroke:0.25px #000000">-0.37</div>
<div class="v" style="left:188.21px;top:155.52px;width:17.11px;height:17.28px;line-height:17.28px;font-size:7px;color:#000000;transform:scaleX(1);-webkit-text-stroke:0.25px #000000">-0.31</div>
<div class="v" style="left:205.32px;top:155.52px;width:17.11px;height:17.28px;line-height:17.28px;font-size:7px;color:#000000;transform:scaleX(1);-webkit-text-stroke:0.25px #000000">-0.21</div>
<div class="v" style="left:222.43px;top:155.52px;width:17.11px;height:17.28px;line-height:17.28px;font-size:7px;color:#000000;transform:scaleX(1);-webkit-text-stroke:0.25px #000000">-0.59</div>
<div class="v" style="left:239.54px;top:155.52px;width:17.11px;height:17.28px;line-height:17.28px;font-size:7px;color:#000000;transform:scaleX(1);-webkit-text-stroke:0.25px #000000">-0.32</div>
<div class="v" style="left:0.00px;top:172.80px;width:17.11px;height:17.28px;line-height:17.28px;font-size:7px;color:#000000;transform:scaleX(1);-webkit-text-stroke:0.25px #000000">-0.37</div>
<div class="v" style="left:17.11px;top:172.80px;width:17.11px;height:17.28px;line-height:17.28px;font-size:7px;color:#000000;transform:scaleX(1);-webkit-text-stroke:0.25px #000000">-0.08</div>
<div class="v" style="left:34.22px;top:172.80px;width:17.11px;height:17.28px;line-height:17.28px;font-size:7px;color:#000000;transform:scaleX(1);-webkit-text-stroke:0.25px #000000">-0.33</div>
<div class="v" style="left:51.33px;top:172.80px;width:17.11px;height:17.28px;line-height:17.28px;font-size:7px;color:#000000;transform:scaleX(1);-webkit-text-stroke:0.25px #000000">-0.02</div>
<div class="v" style="left:68.44px;top:172.80px;width:17.11px;height:17.28px;line-height:17.28px;font-size:7px;color:#000000;transform:scaleX(1);-webkit-text-stroke:0.25px #000000">-0.14</div>
<div class="v" style="left:85.55px;top:172.80px;width:17.11px;height:17.28px;line-height:17.28px;font-size:7px;color:#000000;transform:scaleX(1);-webkit-text-stroke:0.25px #000000">-0.26</div>
<div class="v" style="left:102.66px;top:172.80px;width:17.11px;height:17.28px;line-height:17.28px;font-size:7px;color:#000000;transform:scaleX(1);-webkit-text-stroke:0.25px #000000">-0.15</div>
<div class="v" style="left:119.77px;top:172.80px;width:17.11px;height:17.28px;line-height:17.28px;font-size:7px;color:#000000;transform:scaleX(1);-webkit-text-stroke:0.25px #000000">-0.22</div>
<div class="v" style="left:136.88px;top:172.80px;width:17.11px;height:17.28px;line-height:17.28px;font-size:7px;color:#000000;transform:scaleX(1);-webkit-text-stroke:0.25px #000000">0.16</div>
<div class="v" style="left:153.99px;top:172.80px;width:17.11px;height:17.28px;line-height:17.28px;font-size:7px;color:#000000;transform:scaleX(1);-webkit-text-stroke:0.25px #000000">-0.37</div>
<div class="v" style="left:171.10px;top:172.80px;width:17.11px;height:17.28px;line-height:17.28px;font-size:7px;color:#ffffff;transform:scaleX(1);-webkit-text-stroke:0px #ffffff">1.00</div>
<div class="v" style="left:188.21px;top:172.80px;width:17.11px;height:17.28px;line-height:17.28px;font-size:7px;color:#000000;transform:scaleX(1);-webkit-text-stroke:0.25px #000000">0.62</div>
<div class="v" style="left:205.32px;top:172.80px;width:17.11px;height:17.28px;line-height:17.28px;font-size:7px;color:#000000;transform:scaleX(1);-webkit-text-stroke:0.25px #000000">0.43</div>
<div class="v" style="left:222.43px;top:172.80px;width:17.11px;height:17.28px;line-height:17.28px;font-size:7px;color:#000000;transform:scaleX(1);-webkit-text-stroke:0.25px #000000">0.69</div>
<div class="v" style="left:239.54px;top:172.80px;width:17.11px;height:17.28px;line-height:17.28px;font-size:7px;color:#000000;transform:scaleX(1);-webkit-text-stroke:0.25px #000000">0.60</div>
<div class="v" style="left:0.00px;top:190.08px;width:17.11px;height:17.28px;line-height:17.28px;font-size:7px;color:#000000;transform:scaleX(1);-webkit-text-stroke:0.25px #000000">-0.41</div>
<div class="v" style="left:17.11px;top:190.08px;width:17.11px;height:17.28px;line-height:17.28px;font-size:7px;color:#000000;transform:scaleX(1);-webkit-text-stroke:0.25px #000000">-0.10</div>
<div class="v" style="left:34.22px;top:190.08px;width:17.11px;height:17.28px;line-height:17.28px;font-size:7px;color:#000000;transform:scaleX(1);-webkit-text-stroke:0.25px #000000">-0.40</div>
<div class="v" style="left:51.33px;top:190.08px;width:17.11px;height:17.28px;line-height:17.28px;font-size:7px;color:#000000;transform:scaleX(1);-webkit-text-stroke:0.25px #000000">-0.03</div>
<div class="v" style="left:68.44px;top:190.08px;width:17.11px;height:17.28px;line-height:17.28px;font-size:7px;color:#000000;transform:scaleX(1);-webkit-text-stroke:0.25px #000000">-0.20</div>
<div class="v" style="left:85.55px;top:190.08px;width:17.11px;height:17.28px;line-height:17.28px;font-size:7px;color:#000000;transform:scaleX(1);-webkit-text-stroke:0.25px #000000">-0.22</div>
<div class="v" style="left:102.66px;top:190.08px;width:17.11px;height:17.28px;line-height:17.28px;font-size:7px;color:#000000;transform:scaleX(1);-webkit-text-stroke:0.25px #000000">-0.15</div>
<div class="v" style="left:119.77px;top:190.08px;width:17.11px;height:17.28px;line-height:17.28px;font-size:7px;color:#000000;transform:scaleX(1);-webkit-text-stroke:0.25px #000000">-0.22</div>
<div class="v" style="left:136.88px;top:190.08px;width:17.11px;height:17.28px;line-height:17.28px;font-size:7px;color:#000000;transform:scaleX(1);-webkit-text-stroke:0.25px #000000">0.47</div>
<div class="v" style="left:153.99px;top:190.08px;width:17.11px;height:17.28px;line-height:17.28px;font-size:7px;color:#000000;transform:scaleX(1);-webkit-text-stroke:0.25px #000000">-0.31</div>
<div class="v" style="left:171.10px;top:190.08px;width:17.11px;height:17.28px;line-height:17.28px;font-size:7px;color:#000000;transform:scaleX(1);-webkit-text-stroke:0.25px #000000">0.62</div>
<div class="v" style="left:188.21px;top:190.08px;width:17.11px;height:17.28px;line-height:17.28px;font-size:7px;color:#ffffff;transform:scaleX(1);-webkit-text-stroke:0px #ffffff">1.00</div>
<div class="v" style="left:205.32px;top:190.08px;width:17.11px;height:17.28px;line-height:17.28px;font-size:7px;color:#000000;transform:scaleX(1);-webkit-text-stroke:0.25px #000000">0.58</div>
<div class="v" style="left:222.43px;top:190.08px;width:17.11px;height:17.28px;line-height:17.28px;font-size:7px;color:#000000;transform:scaleX(1);-webkit-text-stroke:0.25px #000000">0.49</div>
<div class="v" style="left:239.54px;top:190.08px;width:17.11px;height:17.28px;line-height:17.28px;font-size:7px;color:#000000;transform:scaleX(1);-webkit-text-stroke:0.25px #000000">0.73</div>
<div class="v" style="left:0.00px;top:207.36px;width:17.11px;height:17.28px;line-height:17.28px;font-size:7px;color:#000000;transform:scaleX(1);-webkit-text-stroke:0.25px #000000">-0.34</div>
<div class="v" style="left:34.22px;top:207.36px;width:17.11px;height:17.28px;line-height:17.28px;font-size:7px;color:#000000;transform:scaleX(1);-webkit-text-stroke:0.25px #000000">0.04</div>
<div class="v" style="left:51.33px;top:207.36px;width:17.11px;height:17.28px;line-height:17.28px;font-size:7px;color:#000000;transform:scaleX(1);-webkit-text-stroke:0.25px #000000">-0.14</div>
<div class="v" style="left:68.44px;top:207.36px;width:17.11px;height:17.28px;line-height:17.28px;font-size:7px;color:#000000;transform:scaleX(1);-webkit-text-stroke:0.25px #000000">-0.28</div>
<div class="v" style="left:85.55px;top:207.36px;width:17.11px;height:17.28px;line-height:17.28px;font-size:7px;color:#000000;transform:scaleX(1);-webkit-text-stroke:0.25px #000000">-0.45</div>
<div class="v" style="left:102.66px;top:207.36px;width:17.11px;height:17.28px;line-height:17.28px;font-size:7px;color:#000000;transform:scaleX(1);-webkit-text-stroke:0.25px #000000">-0.23</div>
<div class="v" style="left:119.77px;top:207.36px;width:17.11px;height:17.28px;line-height:17.28px;font-size:7px;color:#000000;transform:scaleX(1);-webkit-text-stroke:0.25px #000000">-0.39</div>
<div class="v" style="left:136.88px;top:207.36px;width:17.11px;height:17.28px;line-height:17.28px;font-size:7px;color:#000000;transform:scaleX(1);-webkit-text-stroke:0.25px #000000">0.63</div>
<div class="v" style="left:153.99px;top:207.36px;width:17.11px;height:17.28px;line-height:17.28px;font-size:7px;color:#000000;transform:scaleX(1);-webkit-text-stroke:0.25px #000000">-0.21</div>
<div class="v" style="left:171.10px;top:207.36px;width:17.11px;height:17.28px;line-height:17.28px;font-size:7px;color:#000000;transform:scaleX(1);-webkit-text-stroke:0.25px #000000">0.43</div>
<div class="v" style="left:188.21px;top:207.36px;width:17.11px;height:17.28px;line-height:17.28px;font-size:7px;color:#000000;transform:scaleX(1);-webkit-text-stroke:0.25px #000000">0.58</div>
<div class="v" style="left:205.32px;top:207.36px;width:17.11px;height:17.28px;line-height:17.28px;font-size:7px;color:#ffffff;transform:scaleX(1);-webkit-text-stroke:0px #ffffff">1.00</div>
<div class="v" style="left:222.43px;top:207.36px;width:17.11px;height:17.28px;line-height:17.28px;font-size:7px;color:#000000;transform:scaleX(1);-webkit-text-stroke:0.25px #000000">0.38</div>
<div class="v" style="left:239.54px;top:207.36px;width:17.11px;height:17.28px;line-height:17.28px;font-size:7px;color:#000000;transform:scaleX(1);-webkit-text-stroke:0.25px #000000">0.62</div>
<div class="v" style="left:0.00px;top:224.64px;width:17.11px;height:17.28px;line-height:17.28px;font-size:7px;color:#000000;transform:scaleX(1);-webkit-text-stroke:0.25px #000000">-0.40</div>
<div class="v" style="left:17.11px;top:224.64px;width:17.11px;height:17.28px;line-height:17.28px;font-size:7px;color:#000000;transform:scaleX(1);-webkit-text-stroke:0.25px #000000">-0.16</div>
<div class="v" style="left:34.22px;top:224.64px;width:17.11px;height:17.28px;line-height:17.28px;font-size:7px;color:#000000;transform:scaleX(1);-webkit-text-stroke:0.25px #000000">-0.48</div>
<div class="v" style="left:51.33px;top:224.64px;width:17.11px;height:17.28px;line-height:17.28px;font-size:7px;color:#000000;transform:scaleX(1);-webkit-text-stroke:0.25px #000000">-0.04</div>
<div class="v" style="left:68.44px;top:224.64px;width:17.11px;height:17.28px;line-height:17.28px;font-size:7px;color:#000000;transform:scaleX(1);-webkit-text-stroke:0.25px #000000">-0.21</div>
<div class="v" style="left:85.55px;top:224.64px;width:17.11px;height:17.28px;line-height:17.28px;font-size:7px;color:#000000;transform:scaleX(1);-webkit-text-stroke:0.25px #000000">-0.51</div>
<div class="v" style="left:102.66px;top:224.64px;width:17.11px;height:17.28px;line-height:17.28px;font-size:7px;color:#000000;transform:scaleX(1);-webkit-text-stroke:0.25px #000000">-0.46</div>
<div class="v" style="left:119.77px;top:224.64px;width:17.11px;height:17.28px;line-height:17.28px;font-size:7px;color:#000000;transform:scaleX(1);-webkit-text-stroke:0.25px #000000">-0.46</div>
<div class="v" style="left:136.88px;top:224.64px;width:17.11px;height:17.28px;line-height:17.28px;font-size:7px;color:#000000;transform:scaleX(1);-webkit-text-stroke:0.25px #000000">0.35</div>
<div class="v" style="left:153.99px;top:224.64px;width:17.11px;height:17.28px;line-height:17.28px;font-size:7px;color:#000000;transform:scaleX(1);-webkit-text-stroke:0.25px #000000">-0.59</div>
<div class="v" style="left:171.10px;top:224.64px;width:17.11px;height:17.28px;line-height:17.28px;font-size:7px;color:#000000;transform:scaleX(1);-webkit-text-stroke:0.25px #000000">0.69</div>
<div class="v" style="left:188.21px;top:224.64px;width:17.11px;height:17.28px;line-height:17.28px;font-size:7px;color:#000000;transform:scaleX(1);-webkit-text-stroke:0.25px #000000">0.49</div>
<div class="v" style="left:205.32px;top:224.64px;width:17.11px;height:17.28px;line-height:17.28px;font-size:7px;color:#000000;transform:scaleX(1);-webkit-text-stroke:0.25px #000000">0.38</div>
<div class="v" style="left:222.43px;top:224.64px;width:17.11px;height:17.28px;line-height:17.28px;font-size:7px;color:#ffffff;transform:scaleX(1);-webkit-text-stroke:0px #ffffff">1.00</div>
<div class="v" style="left:239.54px;top:224.64px;width:17.11px;height:17.28px;line-height:17.28px;font-size:7px;color:#000000;transform:scaleX(1);-webkit-text-stroke:0.25px #000000">0.68</div>
<div class="v" style="left:0.00px;top:241.92px;width:17.11px;height:17.28px;line-height:17.28px;font-size:7px;color:#000000;transform:scaleX(1);-webkit-text-stroke:0.25px #000000">-0.33</div>
<div class="v" style="left:17.11px;top:241.92px;width:17.11px;height:17.28px;line-height:17.28px;font-size:7px;color:#000000;transform:scaleX(1);-webkit-text-stroke:0.25px #000000">-0.04</div>
<div class="v" style="left:34.22px;top:241.92px;width:17.11px;height:17.28px;line-height:17.28px;font-size:7px;color:#000000;transform:scaleX(1);-webkit-text-stroke:0.25px #000000">-0.26</div>
<div class="v" style="left:51.33px;top:241.92px;width:17.11px;height:17.28px;line-height:17.28px;font-size:7px;color:#000000;transform:scaleX(1);-webkit-text-stroke:0.25px #000000">-0.04</div>
<div class="v" style="left:68.44px;top:241.92px;width:17.11px;height:17.28px;line-height:17.28px;font-size:7px;color:#000000;transform:scaleX(1);-webkit-text-stroke:0.25px #000000">-0.42</div>
<div class="v" style="left:85.55px;top:241.92px;width:17.11px;height:17.28px;line-height:17.28px;font-size:7px;color:#000000;transform:scaleX(1);-webkit-text-stroke:0.25px #000000">-0.21</div>
<div class="v" style="left:102.66px;top:241.92px;width:17.11px;height:17.28px;line-height:17.28px;font-size:7px;color:#000000;transform:scaleX(1);-webkit-text-stroke:0.25px #000000">-0.08</div>
<div class="v" style="left:119.77px;top:241.92px;width:17.11px;height:17.28px;line-height:17.28px;font-size:7px;color:#000000;transform:scaleX(1);-webkit-text-stroke:0.25px #000000">-0.22</div>
<div class="v" style="left:136.88px;top:241.92px;width:17.11px;height:17.28px;line-height:17.28px;font-size:7px;color:#000000;transform:scaleX(1);-webkit-text-stroke:0.25px #000000">0.42</div>
<div class="v" style="left:153.99px;top:241.92px;width:17.11px;height:17.28px;line-height:17.28px;font-size:7px;color:#000000;transform:scaleX(1);-webkit-text-stroke:0.25px #000000">-0.32</div>
<div class="v" style="left:171.10px;top:241.92px;width:17.11px;height:17.28px;line-height:17.28px;font-size:7px;color:#000000;transform:scaleX(1);-webkit-text-stroke:0.25px #000000">0.60</div>
<div class="v" style="left:188.21px;top:241.92px;width:17.11px;height:17.28px;line-height:17.28px;font-size:7px;color:#000000;transform:scaleX(1);-webkit-text-stroke:0.25px #000000">0.73</div>
<div class="v" style="left:205.32px;top:241.92px;width:17.11px;height:17.28px;line-height:17.28px;font-size:7px;color:#000000;transform:scaleX(1);-webkit-text-stroke:0.25px #000000">0.62</div>
<div class="v" style="left:222.43px;top:241.92px;width:17.11px;height:17.28px;line-height:17.28px;font-size:7px;color:#000000;transform:scaleX(1);-webkit-text-stroke:0.25px #000000">0.68</div>
<div class="v" style="left:239.54px;top:241.92px;width:17.11px;height:17.28px;line-height:17.28px;font-size:7px;color:#ffffff;transform:scaleX(1);-webkit-text-stroke:0px #ffffff">1.00</div>
<div style="position:absolute;left:-0.75px;top:-0.75px;width:258.15px;height:260.70px;box-sizing:border-box;border:1.5px solid #000"></div>
</div>
<div class="rl" style="right:406.20px;top:697.30px;height:17.28px;line-height:17.28px;font-size:12.4px">LBP</div>
<div class="rl" style="right:406.20px;top:714.58px;height:17.28px;line-height:17.28px;font-size:12.4px">PMS</div>
<div class="rl" style="right:406.20px;top:731.86px;height:17.28px;line-height:17.28px;font-size:12.4px">FCP</div>
<div class="rl" style="right:406.20px;top:749.14px;height:17.28px;line-height:17.28px;font-size:12.4px">Antibiotics</div>
<div class="rl" style="right:406.20px;top:766.42px;height:17.28px;line-height:17.28px;font-size:12.4px">Anti–TNF</div>
<div class="rl" style="right:406.20px;top:783.70px;height:17.28px;line-height:17.28px;font-size:12.4px">Total Fat (g)</div>
<div class="rl" style="right:406.20px;top:800.98px;height:17.28px;line-height:17.28px;font-size:12.4px">Vitamin B2 (mg)</div>
<div class="rl" style="right:406.20px;top:818.26px;height:17.28px;line-height:17.28px;font-size:12.4px">Monounsaturated Fat (g)</div>
<div class="rl" style="right:406.20px;top:835.54px;height:17.28px;line-height:17.28px;font-size:12.4px">Fruit_other</div>
<div class="rl" style="right:406.20px;top:852.82px;height:17.28px;line-height:17.28px;font-size:12.4px">Refined Grains</div>
<div class="rl" style="right:406.20px;top:870.10px;height:17.28px;line-height:17.28px;font-size:12.4px">Vitamin C (mg)</div>
<div class="rl" style="right:406.20px;top:887.38px;height:17.28px;line-height:17.28px;font-size:12.4px">Total Fruit/Vegetable</div>
<div class="rl" style="right:406.20px;top:904.66px;height:17.28px;line-height:17.28px;font-size:12.4px">HEI_whole fruit</div>
<div class="rl" style="right:406.20px;top:921.94px;height:17.28px;line-height:17.28px;font-size:12.4px">Moderation HEI</div>
<div class="rl" style="right:406.20px;top:939.22px;height:17.28px;line-height:17.28px;font-size:12.4px">Total HEI</div>
<div class="cl" style="left:147.90px;top:694.10px;font-size:12.6px;line-height:12.6px">LBP</div>
<div class="cl" style="left:165.01px;top:694.10px;font-size:12.6px;line-height:12.6px">PMS</div>
<div class="cl" style="left:182.12px;top:694.10px;font-size:12.6px;line-height:12.6px">FCP</div>
<div class="cl" style="left:199.23px;top:694.10px;font-size:12.6px;line-height:12.6px">Antibiotics</div>
<div class="cl" style="left:216.34px;top:694.10px;font-size:12.6px;line-height:12.6px">Anti–TNF</div>
<div class="cl" style="left:233.45px;top:694.10px;font-size:12.6px;line-height:12.6px">Total Fat (g)</div>
<div class="cl" style="left:250.56px;top:694.10px;font-size:12.6px;line-height:12.6px">Vitamin B2 (mg)</div>
<div class="cl" style="left:267.67px;top:694.10px;font-size:12.6px;line-height:12.6px">Monounsaturated Fat (g)</div>
<div class="cl" style="left:284.78px;top:694.10px;font-size:12.6px;line-height:12.6px">Fruit_other</div>
<div class="cl" style="left:301.89px;top:694.10px;font-size:12.6px;line-height:12.6px">Refined Grains</div>
<div class="cl" style="left:319.00px;top:694.10px;font-size:12.6px;line-height:12.6px">Vitamin C (mg)</div>
<div class="cl" style="left:336.11px;top:694.10px;font-size:12.6px;line-height:12.6px">Total Fruit/Vegetable</div>
<div class="cl" style="left:353.22px;top:694.10px;font-size:12.6px;line-height:12.6px">HEI_whole fruit</div>
<div class="cl" style="left:370.33px;top:694.10px;font-size:12.6px;line-height:12.6px">Moderation HEI</div>
<div class="cl" style="left:387.44px;top:694.10px;font-size:12.6px;line-height:12.6px">Total HEI</div>
<div style="position:absolute;left:414.8px;top:696px;width:14.8px;height:260px;box-sizing:border-box;border:1.5px solid #000;background:linear-gradient(to bottom,#4e5bee,#ffffff,#e43c46)"></div>
<div class="l" style="left:416.30px;top:760.35px;width:2px;height:1.3px;background:#000"></div>
<div class="l" style="left:426.10px;top:760.35px;width:2px;height:1.3px;background:#000"></div>
<div class="l" style="left:416.30px;top:825.35px;width:2px;height:1.3px;background:#000"></div>
<div class="l" style="left:426.10px;top:825.35px;width:2px;height:1.3px;background:#000"></div>
<div class="l" style="left:416.30px;top:890.35px;width:2px;height:1.3px;background:#000"></div>
<div class="l" style="left:426.10px;top:890.35px;width:2px;height:1.3px;background:#000"></div>
<div class="tl" style="left:433.8px;top:677.20px;height:40px;line-height:40px;font-size:7px">1.0</div>
<div class="tl" style="left:433.8px;top:741.95px;height:40px;line-height:40px;font-size:7px">0.5</div>
<div class="tl" style="left:433.8px;top:806.70px;height:40px;line-height:40px;font-size:7px">0</div>
<div class="tl" style="left:433.8px;top:871.45px;height:40px;line-height:40px;font-size:7px">-0.5</div>
<div class="tl" style="left:433.8px;top:936.20px;height:40px;line-height:40px;font-size:7px">-1.0</div>
<div class="cap" style="left:308.5px;top:516px;font-size:17.5px;line-height:20px">(<b style="font-size:15.5px;position:relative;top:-0.8px">A</b>)</div>
<div class="cap" style="left:309px;top:980.2px;font-size:17.5px;line-height:20px">(<b style="font-size:15.5px;position:relative;top:-0.8px">B</b>)</div>
</body></html>
